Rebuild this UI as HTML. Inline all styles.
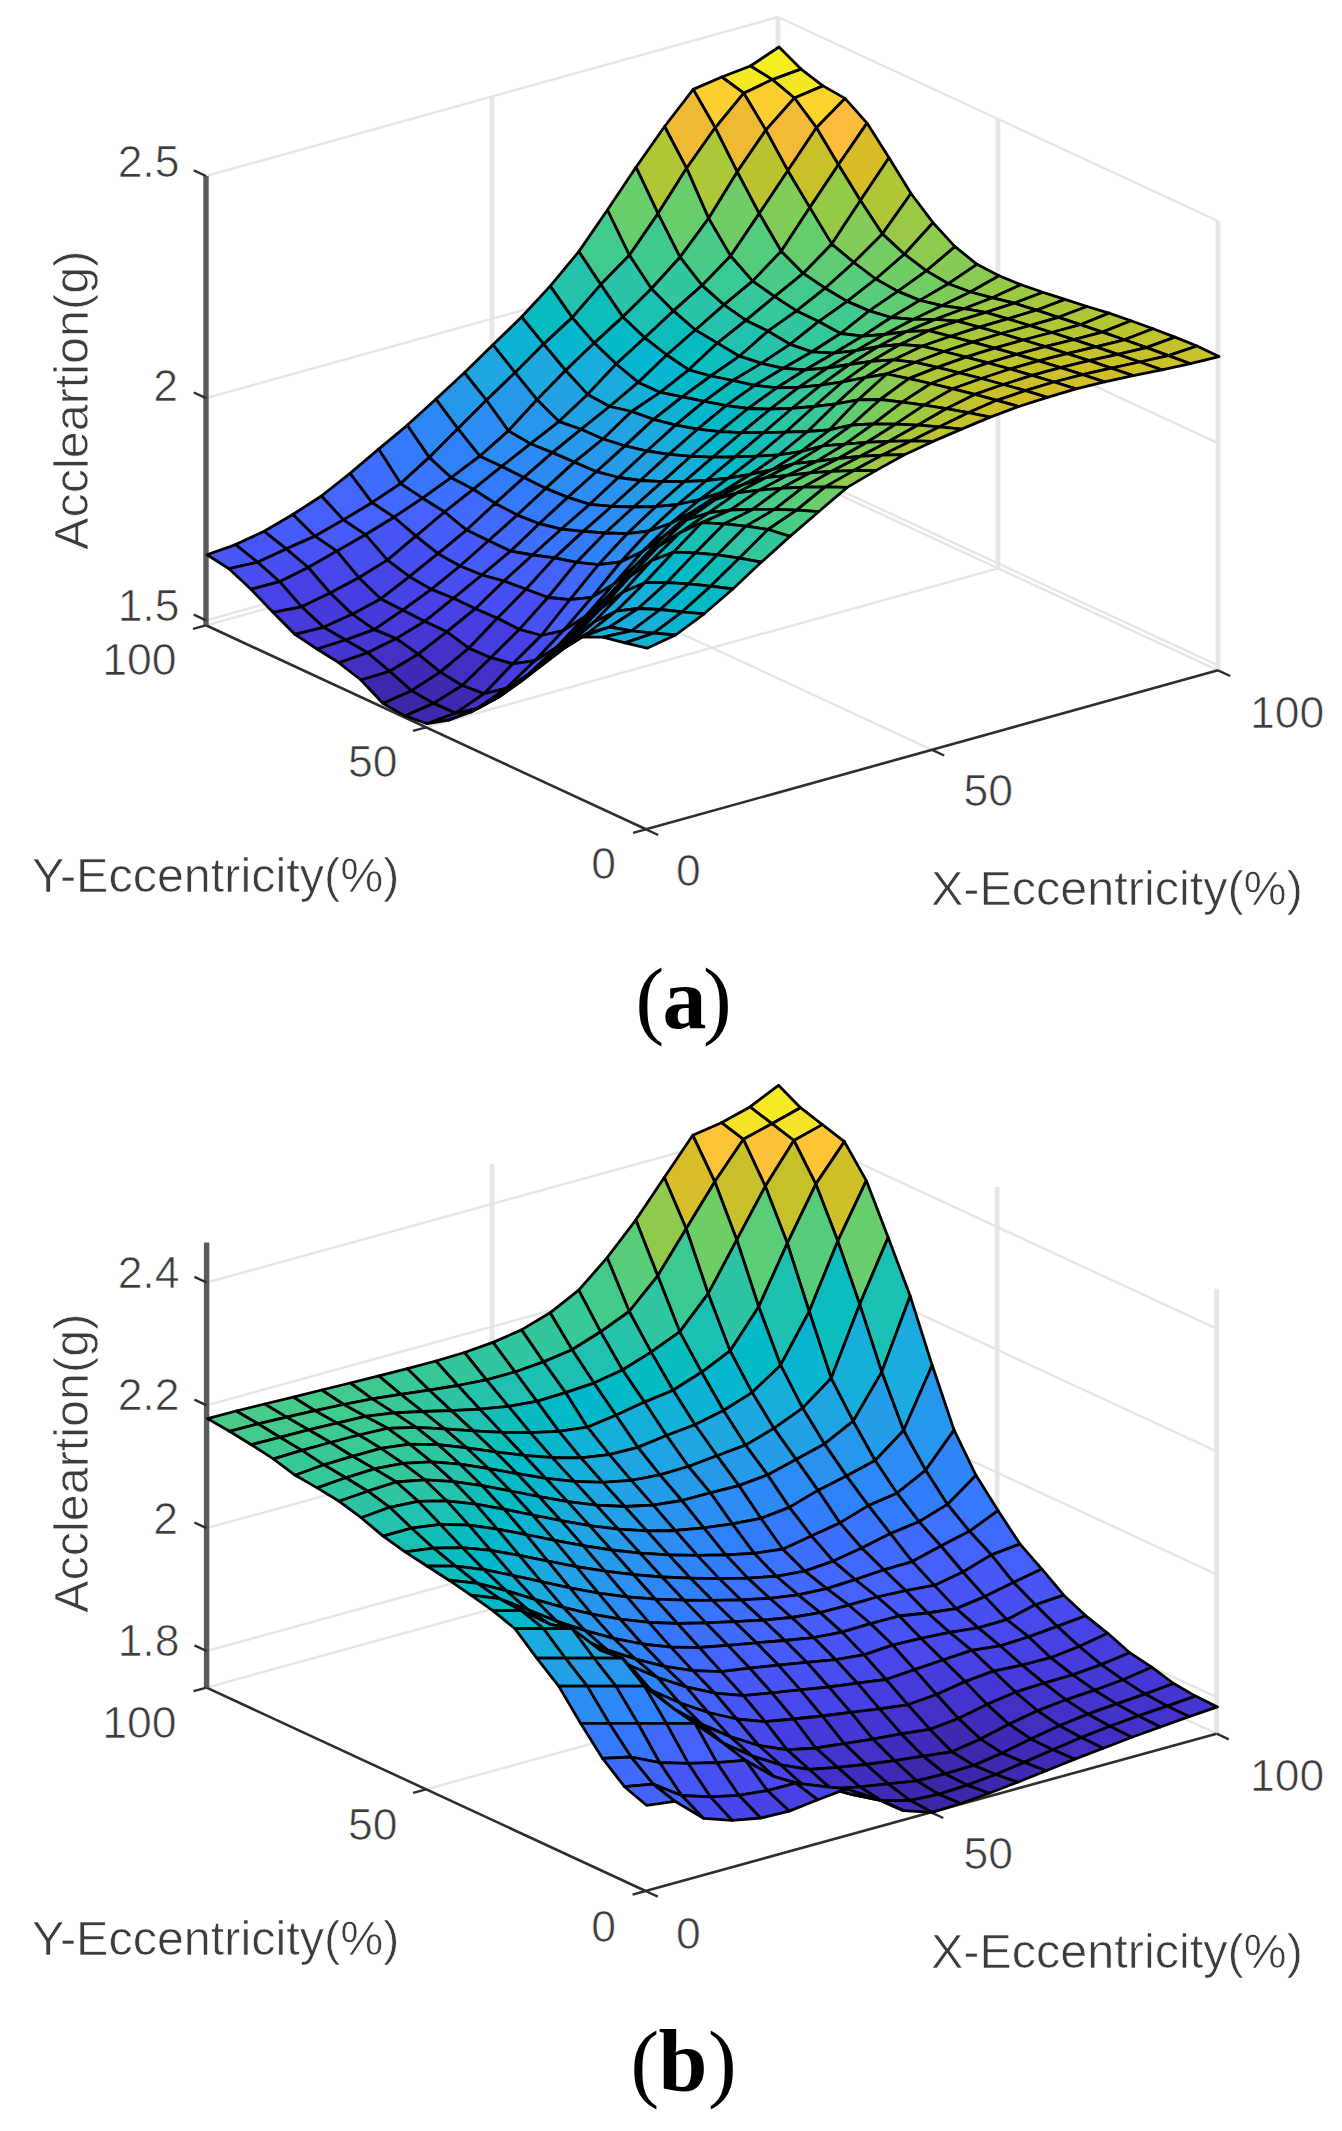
<!DOCTYPE html>
<html lang="en"><head><meta charset="utf-8"><title>Acceleration response surfaces</title>
<style>
html,body{margin:0;padding:0;background:#fff}
body{width:1342px;height:2131px;overflow:hidden}
svg{display:block}
.g{stroke:#e5e5e5;stroke-width:2.4;fill:none}
.gv{stroke:#e6e6e6;stroke-width:4.8;fill:none}
.ax{stroke:#2e2e2e;stroke-width:2.6;fill:none}
.az{stroke:#5a5a5a;stroke-width:5.4;fill:none}
.tk{stroke:#2e2e2e;stroke-width:2.4;fill:none}
.sf polygon{stroke:#000;stroke-width:2.8;stroke-linejoin:round}
.t{font-family:"Liberation Sans",Arial,Helvetica,sans-serif;font-size:44.5px;fill:#3c3c3c;stroke:#fff;stroke-width:.7px}
.l{font-family:"Liberation Sans",Arial,Helvetica,sans-serif;font-size:48.5px;fill:#3c3c3c;stroke:#fff;stroke-width:.7px}
.c{font-family:"Liberation Serif","Times New Roman",serif;font-size:88px;fill:#000}
.cb{font-weight:bold}
.cp{font-size:86px}
</style></head>
<body>
<svg width="1342" height="2131" viewBox="0 0 1342 2131">
<rect width="1342" height="2131" fill="#fff"/>
<g><path class="g" d="M932 749.8L492 545.8"/><path class="g" d="M1218 670.3L778 466.3"/><path class="g" d="M426 727.3L998 568.3"/><path class="g" d="M206 625.3L778 466.3"/><path class="gv" d="M492 545.8L492 96.5"/><path class="gv" d="M778 466.3L778 17"/><path class="gv" d="M1218 670.3L1218 221"/><path class="gv" d="M998 568.3L998 119"/><path class="g" d="M206 620.4L778 461.4"/><path class="g" d="M778 461.4L1218 665.4"/><path class="g" d="M206 398.2L778 239.2"/><path class="g" d="M778 239.2L1218 443.2"/><path class="g" d="M206 176L778 17"/><path class="g" d="M778 17L1218 221"/></g>
<g><path class="ax" d="M646 829.3L1218 670.3"/><path class="ax" d="M646 829.3L206 625.3"/><path class="az" d="M206 625.3L206 176"/><path class="tk" d="M646 829.3L658.2 835"/><path class="tk" d="M932 749.8L944.2 755.5"/><path class="tk" d="M1218 670.3L1230.2 676"/><path class="tk" d="M646 829.3L633 832.9"/><path class="tk" d="M426 727.3L413 730.9"/><path class="tk" d="M206 625.3L193 628.9"/><path class="tk" d="M206 620.4L193.8 614.7"/><path class="tk" d="M206 398.2L193.8 392.5"/><path class="tk" d="M206 176L193.8 170.4"/></g>
<g class="sf"><polygon fill="#f5ee21" points="772.4,79.6 801,69.1 779,47 750.4,66"/><polygon fill="#f5e924" points="743.8,93.2 772.4,79.6 750.4,66 721.8,77"/><polygon fill="#fccf30" points="715.2,127.8 743.8,93.2 721.8,77 693.2,89.4"/><polygon fill="#f0ba36" points="686.6,168.3 715.2,127.8 693.2,89.4 664.6,126.5"/><polygon fill="#b1c635" points="658,213.6 686.6,168.3 664.6,126.5 636,167.2"/><polygon fill="#68cd6b" points="629.4,255.3 658,213.6 636,167.2 607.4,210"/><polygon fill="#40ca8d" points="600.8,284.6 629.4,255.3 607.4,210 578.8,251.6"/><polygon fill="#27c2ac" points="572.2,317.6 600.8,284.6 578.8,251.6 550.2,286.1"/><polygon fill="#07bcc0" points="543.6,344.1 572.2,317.6 550.2,286.1 521.6,317"/><polygon fill="#0db3d3" points="515,372.7 543.6,344.1 521.6,317 493,344.8"/><polygon fill="#1ea7e1" points="486.4,400.2 515,372.7 493,344.8 464.4,372.7"/><polygon fill="#2698ea" points="457.8,428.7 486.4,400.2 464.4,372.7 435.8,399.2"/><polygon fill="#2d88f6" points="429.2,457.4 457.8,428.7 435.8,399.2 407.2,425.3"/><polygon fill="#3579fd" points="400.6,483.6 429.2,457.4 407.2,425.3 378.6,449.1"/><polygon fill="#3f6eff" points="372,502.7 400.6,483.6 378.6,449.1 350,473.4"/><polygon fill="#4466fd" points="343.4,519.9 372,502.7 350,473.4 321.4,496"/><polygon fill="#465ffb" points="314.8,536.2 343.4,519.9 321.4,496 292.8,514.5"/><polygon fill="#475bf9" points="286.2,548.9 314.8,536.2 292.8,514.5 264.2,531.3"/><polygon fill="#4756f7" points="257.6,562.3 286.2,548.9 264.2,531.3 235.6,544.6"/><polygon fill="#4757f7" points="229,568.7 257.6,562.3 235.6,544.6 207,554.7"/><polygon fill="#f5e625" points="794.4,98 823,85.9 801,69.1 772.4,79.6"/><polygon fill="#fccf30" points="765.8,130.1 794.4,98 772.4,79.6 743.8,93.2"/><polygon fill="#eeba34" points="737.2,171.9 765.8,130.1 743.8,93.2 715.2,127.8"/><polygon fill="#acc738" points="708.6,218.4 737.2,171.9 715.2,127.8 686.6,168.3"/><polygon fill="#69cd6b" points="680,257.2 708.6,218.4 686.6,168.3 658,213.6"/><polygon fill="#3eca8f" points="651.4,288.7 680,257.2 658,213.6 629.4,255.3"/><polygon fill="#2ac3a9" points="622.8,316.9 651.4,288.7 629.4,255.3 600.8,284.6"/><polygon fill="#0cbdbc" points="594.2,343.1 622.8,316.9 600.8,284.6 572.2,317.6"/><polygon fill="#07b5cf" points="565.6,370.5 594.2,343.1 572.2,317.6 543.6,344.1"/><polygon fill="#1da9e0" points="537,399.7 565.6,370.5 543.6,344.1 515,372.7"/><polygon fill="#2698ea" points="508.4,430.9 537,399.7 515,372.7 486.4,400.2"/><polygon fill="#2d8bf4" points="479.8,456.2 508.4,430.9 486.4,400.2 457.8,428.7"/><polygon fill="#3080fa" points="451.2,477.7 479.8,456.2 457.8,428.7 429.2,457.4"/><polygon fill="#3975fe" points="422.6,498.2 451.2,477.7 429.2,457.4 400.6,483.6"/><polygon fill="#426afe" points="394,517.2 422.6,498.2 400.6,483.6 372,502.7"/><polygon fill="#4562fc" points="365.4,534.7 394,517.2 372,502.7 343.4,519.9"/><polygon fill="#475bf9" points="336.8,551.1 365.4,534.7 343.4,519.9 314.8,536.2"/><polygon fill="#4853f5" points="308.2,567.5 336.8,551.1 314.8,536.2 286.2,548.9"/><polygon fill="#484ef1" points="279.6,581.7 308.2,567.5 286.2,548.9 257.6,562.3"/><polygon fill="#484ef1" points="251,589.3 279.6,581.7 257.6,562.3 229,568.7"/><polygon fill="#fbd42e" points="816.4,127.7 845,98.4 823,85.9 794.4,98"/><polygon fill="#f3ba38" points="787.8,170.7 816.4,127.7 794.4,98 765.8,130.1"/><polygon fill="#bac430" points="759.2,213.6 787.8,170.7 765.8,130.1 737.2,171.9"/><polygon fill="#70cd65" points="730.6,256 759.2,213.6 737.2,171.9 708.6,218.4"/><polygon fill="#47cb87" points="702,285.4 730.6,256 708.6,218.4 680,257.2"/><polygon fill="#32c69f" points="673.4,310.9 702,285.4 680,257.2 651.4,288.7"/><polygon fill="#1bc0b4" points="644.8,337.8 673.4,310.9 651.4,288.7 622.8,316.9"/><polygon fill="#01b9c7" points="616.2,364 644.8,337.8 622.8,316.9 594.2,343.1"/><polygon fill="#18aedb" points="587.6,394.4 616.2,364 594.2,343.1 565.6,370.5"/><polygon fill="#23a1e4" points="559,421.6 587.6,394.4 565.6,370.5 537,399.7"/><polygon fill="#2796eb" points="530.4,443.8 559,421.6 537,399.7 508.4,430.9"/><polygon fill="#2d8bf4" points="501.8,466.4 530.4,443.8 508.4,430.9 479.8,456.2"/><polygon fill="#307ffb" points="473.2,489.3 501.8,466.4 479.8,456.2 451.2,477.7"/><polygon fill="#3c71ff" points="444.6,512 473.2,489.3 451.2,477.7 422.6,498.2"/><polygon fill="#4563fc" points="416,536.1 444.6,512 422.6,498.2 394,517.2"/><polygon fill="#4755f6" points="387.4,560.1 416,536.1 394,517.2 365.4,534.7"/><polygon fill="#484df0" points="358.8,577.7 387.4,560.1 365.4,534.7 336.8,551.1"/><polygon fill="#4746eb" points="330.2,593 358.8,577.7 336.8,551.1 308.2,567.5"/><polygon fill="#4741e5" points="301.6,606.8 330.2,593 308.2,567.5 279.6,581.7"/><polygon fill="#4743e8" points="273,612.3 301.6,606.8 279.6,581.7 251,589.3"/><polygon fill="#fcbc3d" points="838.4,164.7 867,123.1 845,98.4 816.4,127.7"/><polygon fill="#c9c129" points="809.8,207.6 838.4,164.7 816.4,127.7 787.8,170.7"/><polygon fill="#80cc59" points="781.2,251.3 809.8,207.6 787.8,170.7 759.2,213.6"/><polygon fill="#53cc7e" points="752.6,281.1 781.2,251.3 759.2,213.6 730.6,256"/><polygon fill="#39c995" points="724,304.9 752.6,281.1 730.6,256 702,285.4"/><polygon fill="#29c3a9" points="695.4,330 724,304.9 702,285.4 673.4,310.9"/><polygon fill="#0dbdbc" points="666.8,355 695.4,330 673.4,310.9 644.8,337.8"/><polygon fill="#06b5cf" points="638.2,382.4 666.8,355 644.8,337.8 616.2,364"/><polygon fill="#19acdc" points="609.6,406.5 638.2,382.4 616.2,364 587.6,394.4"/><polygon fill="#21a2e4" points="581,429.3 609.6,406.5 587.6,394.4 559,421.6"/><polygon fill="#2798ea" points="552.4,452.6 581,429.3 559,421.6 530.4,443.8"/><polygon fill="#2d8af4" points="523.8,477.6 552.4,452.6 530.4,443.8 501.8,466.4"/><polygon fill="#327bfc" points="495.2,503.4 523.8,477.6 501.8,466.4 473.2,489.3"/><polygon fill="#426afe" points="466.6,530.1 495.2,503.4 473.2,489.3 444.6,512"/><polygon fill="#475cfa" points="438,553.7 466.6,530.1 444.6,512 416,536.1"/><polygon fill="#484ff2" points="409.4,576.7 438,553.7 416,536.1 387.4,560.1"/><polygon fill="#4743e7" points="380.8,598.9 409.4,576.7 387.4,560.1 358.8,577.7"/><polygon fill="#463de0" points="352.2,614.2 380.8,598.9 358.8,577.7 330.2,593"/><polygon fill="#4639d9" points="323.6,627.3 352.2,614.2 330.2,593 301.6,606.8"/><polygon fill="#463adb" points="295,634.4 323.6,627.3 301.6,606.8 273,612.3"/><polygon fill="#d9bd28" points="860.4,200.5 889,157.7 867,123.1 838.4,164.7"/><polygon fill="#95ca49" points="831.8,244.1 860.4,200.5 838.4,164.7 809.8,207.6"/><polygon fill="#66cd6d" points="803.2,273.4 831.8,244.1 809.8,207.6 781.2,251.3"/><polygon fill="#49cb86" points="774.6,296.6 803.2,273.4 781.2,251.3 752.6,281.1"/><polygon fill="#34c79b" points="746,320.4 774.6,296.6 752.6,281.1 724,304.9"/><polygon fill="#26c2ad" points="717.4,343.1 746,320.4 724,304.9 695.4,330"/><polygon fill="#06bcc0" points="688.8,369.8 717.4,343.1 695.4,330 666.8,355"/><polygon fill="#06b5cf" points="660.2,392.4 688.8,369.8 666.8,355 638.2,382.4"/><polygon fill="#15afd8" points="631.6,411.5 660.2,392.4 638.2,382.4 609.6,406.5"/><polygon fill="#21a3e3" points="603,439 631.6,411.5 609.6,406.5 581,429.3"/><polygon fill="#2798ea" points="574.4,462.1 603,439 581,429.3 552.4,452.6"/><polygon fill="#2d8af5" points="545.8,488.4 574.4,462.1 552.4,452.6 523.8,477.6"/><polygon fill="#347afd" points="517.2,515.1 545.8,488.4 523.8,477.6 495.2,503.4"/><polygon fill="#4269fe" points="488.6,540.8 517.2,515.1 495.2,503.4 466.6,530.1"/><polygon fill="#475af9" points="460,566 488.6,540.8 466.6,530.1 438,553.7"/><polygon fill="#484df1" points="431.4,589.4 460,566 438,553.7 409.4,576.7"/><polygon fill="#4742e6" points="402.8,610.2 431.4,589.4 409.4,576.7 380.8,598.9"/><polygon fill="#4639d9" points="374.2,629.6 402.8,610.2 380.8,598.9 352.2,614.2"/><polygon fill="#4537d6" points="345.6,640 374.2,629.6 352.2,614.2 323.6,627.3"/><polygon fill="#4536d5" points="317,649 345.6,640 323.6,627.3 295,634.4"/><polygon fill="#afc637" points="882.4,233.9 911,193.5 889,157.7 860.4,200.5"/><polygon fill="#83cc57" points="853.8,262.5 882.4,233.9 860.4,200.5 831.8,244.1"/><polygon fill="#5dcc75" points="825.2,288.2 853.8,262.5 831.8,244.1 803.2,273.4"/><polygon fill="#42ca8c" points="796.6,310.9 825.2,288.2 803.2,273.4 774.6,296.6"/><polygon fill="#34c79c" points="768,331.1 796.6,310.9 774.6,296.6 746,320.4"/><polygon fill="#22c1b0" points="739.4,356.2 768,331.1 746,320.4 717.4,343.1"/><polygon fill="#0bbdbc" points="710.8,376 739.4,356.2 717.4,343.1 688.8,369.8"/><polygon fill="#01b8c9" points="682.2,396.9 710.8,376 688.8,369.8 660.2,392.4"/><polygon fill="#12b1d7" points="653.6,419.4 682.2,396.9 660.2,392.4 631.6,411.5"/><polygon fill="#20a5e2" points="625,445.9 653.6,419.4 631.6,411.5 603,439"/><polygon fill="#2698ea" points="596.4,471.7 625,445.9 603,439 574.4,462.1"/><polygon fill="#2d8bf4" points="567.8,497.4 596.4,471.7 574.4,462.1 545.8,488.4"/><polygon fill="#327bfc" points="539.2,523.7 567.8,497.4 545.8,488.4 517.2,515.1"/><polygon fill="#4269fe" points="510.6,551.2 539.2,523.7 517.2,515.1 488.6,540.8"/><polygon fill="#475bfa" points="482,575 510.6,551.2 488.6,540.8 460,566"/><polygon fill="#484ef1" points="453.4,598.3 482,575 460,566 431.4,589.4"/><polygon fill="#4741e5" points="424.8,621.4 453.4,598.3 431.4,589.4 402.8,610.2"/><polygon fill="#463adb" points="396.2,638.6 424.8,621.4 402.8,610.2 374.2,629.6"/><polygon fill="#4536d2" points="367.6,652.7 396.2,638.6 374.2,629.6 345.6,640"/><polygon fill="#4434cf" points="339,662.8 367.6,652.7 345.6,640 317,649"/><polygon fill="#9ac946" points="904.4,254.2 933,222.7 911,193.5 882.4,233.9"/><polygon fill="#75cc62" points="875.8,279 904.4,254.2 882.4,233.9 853.8,262.5"/><polygon fill="#57cc7a" points="847.2,301.4 875.8,279 853.8,262.5 825.2,288.2"/><polygon fill="#41ca8c" points="818.6,321.6 847.2,301.4 825.2,288.2 796.6,310.9"/><polygon fill="#31c6a0" points="790,344.3 818.6,321.6 796.6,310.9 768,331.1"/><polygon fill="#26c2ac" points="761.4,363.4 790,344.3 768,331.1 739.4,356.2"/><polygon fill="#17bfb6" points="732.8,380.5 761.4,363.4 739.4,356.2 710.8,376"/><polygon fill="#02bac4" points="704.2,401.3 732.8,380.5 710.8,376 682.2,396.9"/><polygon fill="#0cb3d3" points="675.6,425.1 704.2,401.3 682.2,396.9 653.6,419.4"/><polygon fill="#1da9e0" points="647,451 675.6,425.1 653.6,419.4 625,445.9"/><polygon fill="#259ce7" points="618.4,477.5 647,451 625,445.9 596.4,471.7"/><polygon fill="#2d8df2" points="589.8,504.3 618.4,477.5 596.4,471.7 567.8,497.4"/><polygon fill="#307ffb" points="561.2,529.2 589.8,504.3 567.8,497.4 539.2,523.7"/><polygon fill="#3e6fff" points="532.6,555 561.2,529.2 539.2,523.7 510.6,551.2"/><polygon fill="#465ffb" points="504,581.1 532.6,555 510.6,551.2 482,575"/><polygon fill="#484ef1" points="475.4,608.7 504,581.1 482,575 453.4,598.3"/><polygon fill="#4741e5" points="446.8,631.8 475.4,608.7 453.4,598.3 424.8,621.4"/><polygon fill="#4536d3" points="418.2,654.2 446.8,631.8 424.8,621.4 396.2,638.6"/><polygon fill="#4330c5" points="389.6,671.3 418.2,654.2 396.2,638.6 367.6,652.7"/><polygon fill="#4230c3" points="361,680 389.6,671.3 367.6,652.7 339,662.8"/><polygon fill="#8ccb50" points="926.4,270.9 955,246.6 933,222.7 904.4,254.2"/><polygon fill="#70cd65" points="897.8,291.4 926.4,270.9 904.4,254.2 875.8,279"/><polygon fill="#58cc79" points="869.2,310.9 897.8,291.4 875.8,279 847.2,301.4"/><polygon fill="#3eca8f" points="840.6,333.5 869.2,310.9 847.2,301.4 818.6,321.6"/><polygon fill="#33c79c" points="812,351.8 840.6,333.5 818.6,321.6 790,344.3"/><polygon fill="#2cc4a7" points="783.4,368.3 812,351.8 790,344.3 761.4,363.4"/><polygon fill="#20c1b1" points="754.8,385.3 783.4,368.3 761.4,363.4 732.8,380.5"/><polygon fill="#09bdbe" points="726.2,405.7 754.8,385.3 732.8,380.5 704.2,401.3"/><polygon fill="#04b6cd" points="697.6,429.2 726.2,405.7 704.2,401.3 675.6,425.1"/><polygon fill="#19addc" points="669,454.4 697.6,429.2 675.6,425.1 647,451"/><polygon fill="#23a1e4" points="640.4,480.5 669,454.4 647,451 618.4,477.5"/><polygon fill="#2994ed" points="611.8,506.3 640.4,480.5 618.4,477.5 589.8,504.3"/><polygon fill="#2e86f7" points="583.2,531.4 611.8,506.3 589.8,504.3 561.2,529.2"/><polygon fill="#3876fe" points="554.6,557.9 583.2,531.4 561.2,529.2 532.6,555"/><polygon fill="#4561fc" points="526,589.2 554.6,557.9 532.6,555 504,581.1"/><polygon fill="#484ff2" points="497.4,618.2 526,589.2 504,581.1 475.4,608.7"/><polygon fill="#463cdf" points="468.8,648.2 497.4,618.2 475.4,608.7 446.8,631.8"/><polygon fill="#4331c7" points="440.2,672.1 468.8,648.2 446.8,631.8 418.2,654.2"/><polygon fill="#402ab5" points="411.6,690.7 440.2,672.1 418.2,654.2 389.6,671.3"/><polygon fill="#3e28ac" points="383,703.5 411.6,690.7 389.6,671.3 361,680"/><polygon fill="#86cb55" points="948.4,283.7 977,264.3 955,246.6 926.4,270.9"/><polygon fill="#72cd63" points="919.8,300.4 948.4,283.7 926.4,270.9 897.8,291.4"/><polygon fill="#5fcd73" points="891.2,317.5 919.8,300.4 897.8,291.4 869.2,310.9"/><polygon fill="#4bcb84" points="862.6,336.1 891.2,317.5 869.2,310.9 840.6,333.5"/><polygon fill="#3cc991" points="834,353.2 862.6,336.1 840.6,333.5 812,351.8"/><polygon fill="#34c79c" points="805.4,369.8 834,353.2 812,351.8 783.4,368.3"/><polygon fill="#2bc3a8" points="776.8,387.8 805.4,369.8 783.4,368.3 754.8,385.3"/><polygon fill="#18bfb6" points="748.2,408.5 776.8,387.8 754.8,385.3 726.2,405.7"/><polygon fill="#01b9c6" points="719.6,431.7 748.2,408.5 726.2,405.7 697.6,429.2"/><polygon fill="#10b2d5" points="691,456.3 719.6,431.7 697.6,429.2 669,454.4"/><polygon fill="#1ea7e1" points="662.4,481.6 691,456.3 669,454.4 640.4,480.5"/><polygon fill="#259be8" points="633.8,507 662.4,481.6 640.4,480.5 611.8,506.3"/><polygon fill="#2d8df2" points="605.2,533 633.8,507 611.8,506.3 583.2,531.4"/><polygon fill="#327bfc" points="576.6,562.4 605.2,533 583.2,531.4 554.6,557.9"/><polygon fill="#4562fc" points="548,597.5 576.6,562.4 554.6,557.9 526,589.2"/><polygon fill="#484ef1" points="519.4,629.4 548,597.5 526,589.2 497.4,618.2"/><polygon fill="#463ddf" points="490.8,657.7 519.4,629.4 497.4,618.2 468.8,648.2"/><polygon fill="#422fc2" points="462.2,685.5 490.8,657.7 468.8,648.2 440.2,672.1"/><polygon fill="#3f29b1" points="433.6,703.4 462.2,685.5 440.2,672.1 411.6,690.7"/><polygon fill="#3e26a8" points="405,715.9 433.6,703.4 411.6,690.7 383,703.5"/><polygon fill="#8acb52" points="970.4,292 999,275.8 977,264.3 948.4,283.7"/><polygon fill="#7dcc5b" points="941.8,305.7 970.4,292 948.4,283.7 919.8,300.4"/><polygon fill="#70cd65" points="913.2,319.4 941.8,305.7 919.8,300.4 891.2,317.5"/><polygon fill="#62cd71" points="884.6,334.5 913.2,319.4 891.2,317.5 862.6,336.1"/><polygon fill="#52cc7e" points="856,350.6 884.6,334.5 862.6,336.1 834,353.2"/><polygon fill="#41ca8c" points="827.4,368 856,350.6 834,353.2 805.4,369.8"/><polygon fill="#34c79c" points="798.8,387.4 827.4,368 805.4,369.8 776.8,387.8"/><polygon fill="#27c2ac" points="770.2,409.2 798.8,387.4 776.8,387.8 748.2,408.5"/><polygon fill="#0bbdbc" points="741.6,432.7 770.2,409.2 748.2,408.5 719.6,431.7"/><polygon fill="#04b6cd" points="713,457.1 741.6,432.7 719.6,431.7 691,456.3"/><polygon fill="#18aedb" points="684.4,481.6 713,457.1 691,456.3 662.4,481.6"/><polygon fill="#22a2e4" points="655.8,506.7 684.4,481.6 662.4,481.6 633.8,507"/><polygon fill="#2994ec" points="627.2,533.7 655.8,506.7 633.8,507 605.2,533"/><polygon fill="#2f82f9" points="598.6,564.6 627.2,533.7 605.2,533 576.6,562.4"/><polygon fill="#4269fe" points="570,599.7 598.6,564.6 576.6,562.4 548,597.5"/><polygon fill="#4852f4" points="541.4,635.5 570,599.7 548,597.5 519.4,629.4"/><polygon fill="#4740e4" points="512.8,663.8 541.4,635.5 519.4,629.4 490.8,657.7"/><polygon fill="#4330c5" points="484.2,693.7 512.8,663.8 490.8,657.7 462.2,685.5"/><polygon fill="#3f29b2" points="455.6,713.1 484.2,693.7 462.2,685.5 433.6,703.4"/><polygon fill="#3f28ad" points="427,723.7 455.6,713.1 433.6,703.4 405,715.9"/><polygon fill="#94ca4a" points="992.4,297.8 1021,284.7 999,275.8 970.4,292"/><polygon fill="#8dcb4f" points="963.8,308.7 992.4,297.8 970.4,292 941.8,305.7"/><polygon fill="#87cb54" points="935.2,319.4 963.8,308.7 941.8,305.7 913.2,319.4"/><polygon fill="#7ecc5b" points="906.6,331.6 935.2,319.4 913.2,319.4 884.6,334.5"/><polygon fill="#6ecd67" points="878,346.7 906.6,331.6 884.6,334.5 856,350.6"/><polygon fill="#5acc77" points="849.4,364.5 878,346.7 856,350.6 827.4,368"/><polygon fill="#43ca8b" points="820.8,385.1 849.4,364.5 827.4,368 798.8,387.4"/><polygon fill="#32c69f" points="792.2,408.3 820.8,385.1 798.8,387.4 770.2,409.2"/><polygon fill="#1fc0b2" points="763.6,432.7 792.2,408.3 770.2,409.2 741.6,432.7"/><polygon fill="#03bbc3" points="735,456.9 763.6,432.7 741.6,432.7 713,457.1"/><polygon fill="#0ab4d2" points="706.4,480.5 735,456.9 713,457.1 684.4,481.6"/><polygon fill="#1babde" points="677.8,504.5 706.4,480.5 684.4,481.6 655.8,506.7"/><polygon fill="#249ee6" points="649.2,531 677.8,504.5 655.8,506.7 627.2,533.7"/><polygon fill="#2d8df2" points="620.6,562 649.2,531 627.2,533.7 598.6,564.6"/><polygon fill="#3975fe" points="592,597.4 620.6,562 598.6,564.6 570,599.7"/><polygon fill="#465efb" points="563.4,630.6 592,597.4 570,599.7 541.4,635.5"/><polygon fill="#484bef" points="534.8,660.7 563.4,630.6 541.4,635.5 512.8,663.8"/><polygon fill="#463bdd" points="506.2,688.4 534.8,660.7 512.8,663.8 484.2,693.7"/><polygon fill="#4332cb" points="477.6,708.5 506.2,688.4 484.2,693.7 455.6,713.1"/><polygon fill="#4330c5" points="449,720 477.6,708.5 455.6,713.1 427,723.7"/><polygon fill="#9ec942" points="1014.4,303.2 1043,292.3 1021,284.7 992.4,297.8"/><polygon fill="#9bc944" points="985.8,312.4 1014.4,303.2 992.4,297.8 963.8,308.7"/><polygon fill="#9ac946" points="957.2,321.1 985.8,312.4 963.8,308.7 935.2,319.4"/><polygon fill="#96ca48" points="928.6,330.7 957.2,321.1 935.2,319.4 906.6,331.6"/><polygon fill="#89cb52" points="900,344.5 928.6,330.7 906.6,331.6 878,346.7"/><polygon fill="#76cc61" points="871.4,361.3 900,344.5 878,346.7 849.4,364.5"/><polygon fill="#5ccc76" points="842.8,381.8 871.4,361.3 849.4,364.5 820.8,385.1"/><polygon fill="#3eca8f" points="814.2,406.5 842.8,381.8 820.8,385.1 792.2,408.3"/><polygon fill="#2dc4a6" points="785.6,432.2 814.2,406.5 792.2,408.3 763.6,432.7"/><polygon fill="#15bfb7" points="757,456.2 785.6,432.2 763.6,432.7 735,456.9"/><polygon fill="#01bac6" points="728.4,478.1 757,456.2 735,456.9 706.4,480.5"/><polygon fill="#0bb3d2" points="699.8,499.6 728.4,478.1 706.4,480.5 677.8,504.5"/><polygon fill="#1baade" points="671.2,523.2 699.8,499.6 677.8,504.5 649.2,531"/><polygon fill="#259ce7" points="642.6,551.5 671.2,523.2 649.2,531 620.6,562"/><polygon fill="#2d8af5" points="614,583.9 642.6,551.5 620.6,562 592,597.4"/><polygon fill="#3974fe" points="585.4,616.5 614,583.9 592,597.4 563.4,630.6"/><polygon fill="#4660fb" points="556.8,647.2 585.4,616.5 563.4,630.6 534.8,660.7"/><polygon fill="#484ff2" points="528.2,674.7 556.8,647.2 534.8,660.7 506.2,688.4"/><polygon fill="#4743e7" points="499.6,696.5 528.2,674.7 506.2,688.4 477.6,708.5"/><polygon fill="#463ddf" points="471,712 499.6,696.5 477.6,708.5 449,720"/><polygon fill="#a5c83e" points="1036.4,310.2 1065,299.4 1043,292.3 1014.4,303.2"/><polygon fill="#a3c83f" points="1007.8,318.9 1036.4,310.2 1014.4,303.2 985.8,312.4"/><polygon fill="#a2c83f" points="979.2,327.2 1007.8,318.9 985.8,312.4 957.2,321.1"/><polygon fill="#a0c841" points="950.6,336.3 979.2,327.2 957.2,321.1 928.6,330.7"/><polygon fill="#9cc944" points="922,346.2 950.6,336.3 928.6,330.7 900,344.5"/><polygon fill="#8fca4d" points="893.4,359.9 922,346.2 900,344.5 871.4,361.3"/><polygon fill="#7acc5e" points="864.8,377.7 893.4,359.9 871.4,361.3 842.8,381.8"/><polygon fill="#54cc7c" points="836.2,403.8 864.8,377.7 842.8,381.8 814.2,406.5"/><polygon fill="#36c898" points="807.6,431.5 836.2,403.8 814.2,406.5 785.6,432.2"/><polygon fill="#28c2ab" points="779,454.9 807.6,431.5 785.6,432.2 757,456.2"/><polygon fill="#15bfb7" points="750.4,474.5 779,454.9 757,456.2 728.4,478.1"/><polygon fill="#04bbc2" points="721.8,492.3 750.4,474.5 728.4,478.1 699.8,499.6"/><polygon fill="#04b6cd" points="693.2,511.4 721.8,492.3 699.8,499.6 671.2,523.2"/><polygon fill="#17aedb" points="664.6,535.5 693.2,511.4 671.2,523.2 642.6,551.5"/><polygon fill="#239fe5" points="636,565.2 664.6,535.5 642.6,551.5 614,583.9"/><polygon fill="#2c8ef2" points="607.4,597 636,565.2 614,583.9 585.4,616.5"/><polygon fill="#347afd" points="578.8,628.3 607.4,597 585.4,616.5 556.8,647.2"/><polygon fill="#4367fd" points="550.2,656.9 578.8,628.3 556.8,647.2 528.2,674.7"/><polygon fill="#4759f8" points="521.6,680.8 550.2,656.9 528.2,674.7 499.6,696.5"/><polygon fill="#4851f3" points="493,698.8 521.6,680.8 499.6,696.5 471,712"/><polygon fill="#abc739" points="1058.4,317.3 1087,306.5 1065,299.4 1036.4,310.2"/><polygon fill="#aac73a" points="1029.8,325.6 1058.4,317.3 1036.4,310.2 1007.8,318.9"/><polygon fill="#abc739" points="1001.2,333.5 1029.8,325.6 1007.8,318.9 979.2,327.2"/><polygon fill="#a9c73a" points="972.6,342.1 1001.2,333.5 979.2,327.2 950.6,336.3"/><polygon fill="#a6c83d" points="944,351.5 972.6,342.1 950.6,336.3 922,346.2"/><polygon fill="#a0c841" points="915.4,362.3 944,351.5 922,346.2 893.4,359.9"/><polygon fill="#98c947" points="886.8,374 915.4,362.3 893.4,359.9 864.8,377.7"/><polygon fill="#71cd64" points="858.2,399.9 886.8,374 864.8,377.7 836.2,403.8"/><polygon fill="#46cb88" points="829.6,429.8 858.2,399.9 836.2,403.8 807.6,431.5"/><polygon fill="#34c79b" points="801,451.7 829.6,429.8 807.6,431.5 779,454.9"/><polygon fill="#2cc4a7" points="772.4,469.6 801,451.7 779,454.9 750.4,474.5"/><polygon fill="#24c1ae" points="743.8,484.3 772.4,469.6 750.4,474.5 721.8,492.3"/><polygon fill="#17bfb6" points="715.2,499.6 743.8,484.3 721.8,492.3 693.2,511.4"/><polygon fill="#02bac3" points="686.6,520 715.2,499.6 693.2,511.4 664.6,535.5"/><polygon fill="#10b2d5" points="658,546.8 686.6,520 664.6,535.5 636,565.2"/><polygon fill="#21a4e3" points="629.4,577.2 658,546.8 636,565.2 607.4,597"/><polygon fill="#2a93ee" points="600.8,608.7 629.4,577.2 607.4,597 578.8,628.3"/><polygon fill="#2f81fa" points="572.2,638.3 600.8,608.7 578.8,628.3 550.2,656.9"/><polygon fill="#3c71ff" points="543.6,663.8 572.2,638.3 550.2,656.9 521.6,680.8"/><polygon fill="#4466fd" points="515,684.3 543.6,663.8 521.6,680.8 493,698.8"/><polygon fill="#b1c635" points="1080.4,324.7 1109,313.1 1087,306.5 1058.4,317.3"/><polygon fill="#b1c635" points="1051.8,332.5 1080.4,324.7 1058.4,317.3 1029.8,325.6"/><polygon fill="#b2c635" points="1023.2,340 1051.8,332.5 1029.8,325.6 1001.2,333.5"/><polygon fill="#b2c635" points="994.6,348.1 1023.2,340 1001.2,333.5 972.6,342.1"/><polygon fill="#b0c636" points="966,357.1 994.6,348.1 972.6,342.1 944,351.5"/><polygon fill="#abc739" points="937.4,367.4 966,357.1 944,351.5 915.4,362.3"/><polygon fill="#a4c83e" points="908.8,378.6 937.4,367.4 915.4,362.3 886.8,374"/><polygon fill="#88cb53" points="880.2,399.5 908.8,378.6 886.8,374 858.2,399.9"/><polygon fill="#62cd70" points="851.6,425 880.2,399.5 858.2,399.9 829.6,429.8"/><polygon fill="#49cb85" points="823,445.9 851.6,425 829.6,429.8 801,451.7"/><polygon fill="#3bc993" points="794.4,463.5 823,445.9 801,451.7 772.4,469.6"/><polygon fill="#34c79b" points="765.8,477.7 794.4,463.5 772.4,469.6 743.8,484.3"/><polygon fill="#2ec5a4" points="737.2,492.8 765.8,477.7 743.8,484.3 715.2,499.6"/><polygon fill="#20c1b1" points="708.6,512.8 737.2,492.8 715.2,499.6 686.6,520"/><polygon fill="#09bdbe" points="680,532.8 708.6,512.8 686.6,520 658,546.8"/><polygon fill="#0ab4d1" points="651.4,560.8 680,532.8 658,546.8 629.4,577.2"/><polygon fill="#1fa6e2" points="622.8,592.2 651.4,560.8 629.4,577.2 600.8,608.7"/><polygon fill="#2796eb" points="594.2,621.9 622.8,592.2 600.8,608.7 572.2,638.3"/><polygon fill="#2d89f5" points="565.6,647.2 594.2,621.9 572.2,638.3 543.6,663.8"/><polygon fill="#307ffb" points="537,667.5 565.6,647.2 543.6,663.8 515,684.3"/><polygon fill="#b6c532" points="1102.4,332.1 1131,320.7 1109,313.1 1080.4,324.7"/><polygon fill="#b7c532" points="1073.8,339.6 1102.4,332.1 1080.4,324.7 1051.8,332.5"/><polygon fill="#b9c431" points="1045.2,346.7 1073.8,339.6 1051.8,332.5 1023.2,340"/><polygon fill="#bac430" points="1016.6,354.3 1045.2,346.7 1023.2,340 994.6,348.1"/><polygon fill="#b8c431" points="988,362.9 1016.6,354.3 994.6,348.1 966,357.1"/><polygon fill="#b4c533" points="959.4,372.8 988,362.9 966,357.1 937.4,367.4"/><polygon fill="#afc637" points="930.8,383.5 959.4,372.8 937.4,367.4 908.8,378.6"/><polygon fill="#99c946" points="902.2,402.1 930.8,383.5 908.8,378.6 880.2,399.5"/><polygon fill="#7acc5d" points="873.6,423.9 902.2,402.1 880.2,399.5 851.6,425"/><polygon fill="#60cd72" points="845,444.2 873.6,423.9 851.6,425 823,445.9"/><polygon fill="#4ecc81" points="816.4,461.4 845,444.2 823,445.9 794.4,463.5"/><polygon fill="#44cb8a" points="787.8,475.3 816.4,461.4 794.4,463.5 765.8,477.7"/><polygon fill="#3ac994" points="759.2,490.2 787.8,475.3 765.8,477.7 737.2,492.8"/><polygon fill="#2fc5a3" points="730.6,510 759.2,490.2 737.2,492.8 708.6,512.8"/><polygon fill="#2bc3a8" points="702,522.6 730.6,510 708.6,512.8 680,532.8"/><polygon fill="#08bcbf" points="673.4,552.2 702,522.6 680,532.8 651.4,560.8"/><polygon fill="#0fb2d5" points="644.8,582.7 673.4,552.2 651.4,560.8 622.8,592.2"/><polygon fill="#1fa5e2" points="616.2,611.2 644.8,582.7 622.8,592.2 594.2,621.9"/><polygon fill="#259be8" points="587.6,633.5 616.2,611.2 594.2,621.9 565.6,647.2"/><polygon fill="#2994ed" points="559,650.7 587.6,633.5 565.6,647.2 537,667.5"/><polygon fill="#bbc42f" points="1124.4,339.8 1153,328.7 1131,320.7 1102.4,332.1"/><polygon fill="#bdc32e" points="1095.8,346.9 1124.4,339.8 1102.4,332.1 1073.8,339.6"/><polygon fill="#bfc32d" points="1067.2,353.6 1095.8,346.9 1073.8,339.6 1045.2,346.7"/><polygon fill="#c1c32d" points="1038.6,360.9 1067.2,353.6 1045.2,346.7 1016.6,354.3"/><polygon fill="#c0c32d" points="1010,369 1038.6,360.9 1016.6,354.3 988,362.9"/><polygon fill="#bdc32e" points="981.4,378.5 1010,369 988,362.9 959.4,372.8"/><polygon fill="#b9c431" points="952.8,388.8 981.4,378.5 959.4,372.8 930.8,383.5"/><polygon fill="#a8c73b" points="924.2,405.1 952.8,388.8 930.8,383.5 902.2,402.1"/><polygon fill="#90ca4d" points="895.6,424.2 924.2,405.1 902.2,402.1 873.6,423.9"/><polygon fill="#7acc5e" points="867,442.3 895.6,424.2 873.6,423.9 845,444.2"/><polygon fill="#68cd6c" points="838.4,458.5 867,442.3 845,444.2 816.4,461.4"/><polygon fill="#5bcc77" points="809.8,472.9 838.4,458.5 816.4,461.4 787.8,475.3"/><polygon fill="#4dcb82" points="781.2,488.3 809.8,472.9 787.8,475.3 759.2,490.2"/><polygon fill="#39c895" points="752.6,509.4 781.2,488.3 759.2,490.2 730.6,510"/><polygon fill="#33c69d" points="724,523.9 752.6,509.4 730.6,510 702,522.6"/><polygon fill="#19bfb5" points="695.4,552.9 724,523.9 702,522.6 673.4,552.2"/><polygon fill="#02b7cb" points="666.8,582.7 695.4,552.9 673.4,552.2 644.8,582.7"/><polygon fill="#18aedb" points="638.2,608.5 666.8,582.7 644.8,582.7 616.2,611.2"/><polygon fill="#1ea7e1" points="609.6,627 638.2,608.5 616.2,611.2 587.6,633.5"/><polygon fill="#1fa5e2" points="581,637.1 609.6,627 587.6,633.5 559,650.7"/><polygon fill="#c0c32d" points="1146.4,347.6 1175,337.1 1153,328.7 1124.4,339.8"/><polygon fill="#c2c22c" points="1117.8,354.4 1146.4,347.6 1124.4,339.8 1095.8,346.9"/><polygon fill="#c5c22a" points="1089.2,360.7 1117.8,354.4 1095.8,346.9 1067.2,353.6"/><polygon fill="#c7c12a" points="1060.6,367.6 1089.2,360.7 1067.2,353.6 1038.6,360.9"/><polygon fill="#c7c129" points="1032,375.4 1060.6,367.6 1038.6,360.9 1010,369"/><polygon fill="#c5c22a" points="1003.4,384.5 1032,375.4 1010,369 981.4,378.5"/><polygon fill="#c2c32c" points="974.8,394.4 1003.4,384.5 981.4,378.5 952.8,388.8"/><polygon fill="#b5c533" points="946.2,408.7 974.8,394.4 952.8,388.8 924.2,405.1"/><polygon fill="#a4c83e" points="917.6,425.2 946.2,408.7 924.2,405.1 895.6,424.2"/><polygon fill="#93ca4b" points="889,441.3 917.6,425.2 895.6,424.2 867,442.3"/><polygon fill="#83cc57" points="860.4,456.3 889,441.3 867,442.3 838.4,458.5"/><polygon fill="#73cd63" points="831.8,471.3 860.4,456.3 838.4,458.5 809.8,472.9"/><polygon fill="#62cd70" points="803.2,487.2 831.8,471.3 809.8,472.9 781.2,488.3"/><polygon fill="#47cb87" points="774.6,509.4 803.2,487.2 781.2,488.3 752.6,509.4"/><polygon fill="#3bc993" points="746,526.1 774.6,509.4 752.6,509.4 724,523.9"/><polygon fill="#26c2ac" points="717.4,554.8 746,526.1 724,523.9 695.4,552.9"/><polygon fill="#03bbc2" points="688.8,583.8 717.4,554.8 695.4,552.9 666.8,582.7"/><polygon fill="#0db3d3" points="660.2,609.5 688.8,583.8 666.8,582.7 638.2,608.5"/><polygon fill="#1babde" points="631.6,630.8 660.2,609.5 638.2,608.5 609.6,627"/><polygon fill="#19acdc" points="603,637.1 631.6,630.8 609.6,627 581,637.1"/><polygon fill="#c4c22b" points="1168.4,355.6 1197,346 1175,337.1 1146.4,347.6"/><polygon fill="#c7c12a" points="1139.8,362 1168.4,355.6 1146.4,347.6 1117.8,354.4"/><polygon fill="#cac129" points="1111.2,368.1 1139.8,362 1117.8,354.4 1089.2,360.7"/><polygon fill="#cdc028" points="1082.6,374.6 1111.2,368.1 1089.2,360.7 1060.6,367.6"/><polygon fill="#cec028" points="1054,382 1082.6,374.6 1060.6,367.6 1032,375.4"/><polygon fill="#ccc028" points="1025.4,390.7 1054,382 1032,375.4 1003.4,384.5"/><polygon fill="#c9c129" points="996.8,400.3 1025.4,390.7 1003.4,384.5 974.8,394.4"/><polygon fill="#c1c32c" points="968.2,412.7 996.8,400.3 974.8,394.4 946.2,408.7"/><polygon fill="#b5c533" points="939.6,426.8 968.2,412.7 946.2,408.7 917.6,425.2"/><polygon fill="#a9c73b" points="911,440.9 939.6,426.8 917.6,425.2 889,441.3"/><polygon fill="#9cc944" points="882.4,455.1 911,440.9 889,441.3 860.4,456.3"/><polygon fill="#8ccb50" points="853.8,470.6 882.4,455.1 860.4,456.3 831.8,471.3"/><polygon fill="#79cc5e" points="825.2,486.9 853.8,470.6 831.8,471.3 803.2,487.2"/><polygon fill="#59cc78" points="796.6,510.2 825.2,486.9 803.2,487.2 774.6,509.4"/><polygon fill="#44cb89" points="768,529.5 796.6,510.2 774.6,509.4 746,526.1"/><polygon fill="#2ec4a4" points="739.4,558.1 768,529.5 746,526.1 717.4,554.8"/><polygon fill="#0fbeba" points="710.8,586.1 739.4,558.1 717.4,554.8 688.8,583.8"/><polygon fill="#03b7cc" points="682.2,611.8 710.8,586.1 688.8,583.8 660.2,609.5"/><polygon fill="#14b0d8" points="653.6,633.1 682.2,611.8 660.2,609.5 631.6,630.8"/><polygon fill="#16afd9" points="625,642.9 653.6,633.1 631.6,630.8 603,637.1"/><polygon fill="#c8c129" points="1190.4,363.7 1219,356.6 1197,346 1168.4,355.6"/><polygon fill="#cbc129" points="1161.8,369.9 1190.4,363.7 1168.4,355.6 1139.8,362"/><polygon fill="#cfc028" points="1133.2,375.6 1161.8,369.9 1139.8,362 1111.2,368.1"/><polygon fill="#d2bf27" points="1104.6,381.8 1133.2,375.6 1111.2,368.1 1082.6,374.6"/><polygon fill="#d4bf27" points="1076,388.9 1104.6,381.8 1082.6,374.6 1054,382"/><polygon fill="#d3bf27" points="1047.4,397.3 1076,388.9 1054,382 1025.4,390.7"/><polygon fill="#d1bf27" points="1018.8,406.5 1047.4,397.3 1025.4,390.7 996.8,400.3"/><polygon fill="#ccc028" points="990.2,417.1 1018.8,406.5 996.8,400.3 968.2,412.7"/><polygon fill="#c5c22a" points="961.6,429.1 990.2,417.1 968.2,412.7 939.6,426.8"/><polygon fill="#bcc42f" points="933,441.4 961.6,429.1 939.6,426.8 911,440.9"/><polygon fill="#b2c635" points="904.4,454.7 933,441.4 911,440.9 882.4,455.1"/><polygon fill="#a1c840" points="875.8,470.6 904.4,454.7 882.4,455.1 853.8,470.6"/><polygon fill="#8fcb4e" points="847.2,487.4 875.8,470.6 853.8,470.6 825.2,486.9"/><polygon fill="#6bcd69" points="818.6,511.7 847.2,487.4 825.2,486.9 796.6,510.2"/><polygon fill="#4acb85" points="790,536.4 818.6,511.7 796.6,510.2 768,529.5"/><polygon fill="#33c69d" points="761.4,562.1 790,536.4 768,529.5 739.4,558.1"/><polygon fill="#1dc0b2" points="732.8,589 761.4,562.1 739.4,558.1 710.8,586.1"/><polygon fill="#02bac4" points="704.2,613.8 732.8,589 710.8,586.1 682.2,611.8"/><polygon fill="#09b4d1" points="675.6,635 704.2,613.8 682.2,611.8 653.6,633.1"/><polygon fill="#11b2d5" points="647,648.2 675.6,635 653.6,633.1 625,642.9"/></g>
<g><path class="g" d="M931.1 1812.3L492.1 1608.9"/><path class="g" d="M1216.6 1733.7L777.6 1530.3"/><path class="g" d="M426.1 1789.3L997.1 1632"/><path class="g" d="M206.6 1687.6L777.6 1530.3"/><path class="gv" d="M492.1 1608.9L492.1 1163.9"/><path class="gv" d="M777.6 1530.3L777.6 1085.3"/><path class="gv" d="M1216.6 1733.7L1216.6 1288.7"/><path class="gv" d="M997.1 1632L997.1 1187"/><path class="g" d="M206.6 1651L777.6 1493.7"/><path class="g" d="M777.6 1493.7L1216.6 1697.1"/><path class="g" d="M206.6 1528.2L777.6 1370.9"/><path class="g" d="M777.6 1370.9L1216.6 1574.3"/><path class="g" d="M206.6 1405.3L777.6 1248"/><path class="g" d="M777.6 1248L1216.6 1451.4"/><path class="g" d="M206.6 1282.5L777.6 1125.2"/><path class="g" d="M777.6 1125.2L1216.6 1328.6"/></g>
<g><path class="ax" d="M645.6 1891L1216.6 1733.7"/><path class="ax" d="M645.6 1891L206.6 1687.6"/><path class="az" d="M206.6 1687.6L206.6 1242.6"/><path class="tk" d="M645.6 1891L657.8 1896.7"/><path class="tk" d="M931.1 1812.3L943.3 1818"/><path class="tk" d="M1216.6 1733.7L1228.8 1739.4"/><path class="tk" d="M645.6 1891L632.6 1894.6"/><path class="tk" d="M426.1 1789.3L413.1 1792.9"/><path class="tk" d="M206.6 1687.6L193.6 1691.2"/><path class="tk" d="M206.6 1651L194.4 1645.3"/><path class="tk" d="M206.6 1528.2L194.4 1522.5"/><path class="tk" d="M206.6 1405.3L194.4 1399.6"/><path class="tk" d="M206.6 1282.5L194.4 1276.8"/></g>
<g class="sf"><polygon fill="#f5ea24" points="771.9,1123.7 800.5,1107.7 778.5,1085.3 750,1106.9"/><polygon fill="#f5e327" points="743.4,1139.3 771.9,1123.7 750,1106.9 721.4,1122.7"/><polygon fill="#fec438" points="714.8,1181.8 743.4,1139.3 721.4,1122.7 692.8,1135.3"/><polygon fill="#d8be28" points="686.2,1228.8 714.8,1181.8 692.8,1135.3 664.3,1177.5"/><polygon fill="#90ca4d" points="657.7,1275.8 686.2,1228.8 664.3,1177.5 635.8,1220"/><polygon fill="#58cc79" points="629.2,1311.5 657.7,1275.8 635.8,1220 607.2,1257.7"/><polygon fill="#43ca8b" points="600.6,1331.8 629.2,1311.5 607.2,1257.7 578.7,1290.2"/><polygon fill="#37c898" points="572.1,1349.7 600.6,1331.8 578.7,1290.2 550.1,1312.8"/><polygon fill="#33c69d" points="543.5,1361.9 572.1,1349.7 550.1,1312.8 521.5,1329.9"/><polygon fill="#31c6a0" points="515,1372 543.5,1361.9 521.5,1329.9 493,1342.4"/><polygon fill="#31c69f" points="486.4,1379.8 515,1372 493,1342.4 464.5,1352.5"/><polygon fill="#33c69d" points="457.9,1385.5 486.4,1379.8 464.5,1352.5 435.9,1361"/><polygon fill="#36c799" points="429.3,1390.2 457.9,1385.5 435.9,1361 407.4,1368.7"/><polygon fill="#39c895" points="400.8,1394.4 429.3,1390.2 407.4,1368.7 378.8,1375.9"/><polygon fill="#3dc990" points="372.2,1398.9 400.8,1394.4 378.8,1375.9 350.3,1383"/><polygon fill="#40ca8d" points="343.7,1404.5 372.2,1398.9 350.3,1383 321.7,1390"/><polygon fill="#42ca8b" points="315.1,1410.7 343.7,1404.5 321.7,1390 293.2,1397.1"/><polygon fill="#45cb89" points="286.6,1417.1 315.1,1410.7 293.2,1397.1 264.6,1404"/><polygon fill="#46cb88" points="258,1423.8 286.6,1417.1 264.6,1404 236.1,1411"/><polygon fill="#47cb87" points="229.5,1431.3 258,1423.8 236.1,1411 207.5,1418.6"/><polygon fill="#f5e427" points="793.9,1140.5 822.4,1124.6 800.5,1107.7 771.9,1123.7"/><polygon fill="#fec239" points="765.3,1186.3 793.9,1140.5 771.9,1123.7 743.4,1139.3"/><polygon fill="#c9c129" points="736.8,1239.9 765.3,1186.3 743.4,1139.3 714.8,1181.8"/><polygon fill="#6fcd66" points="708.2,1293.7 736.8,1239.9 714.8,1181.8 686.2,1228.8"/><polygon fill="#3bc992" points="679.7,1331.8 708.2,1293.7 686.2,1228.8 657.7,1275.8"/><polygon fill="#30c5a1" points="651.1,1352.1 679.7,1331.8 657.7,1275.8 629.2,1311.5"/><polygon fill="#27c2ac" points="622.5,1370 651.1,1352.1 629.2,1311.5 600.6,1331.8"/><polygon fill="#20c1b1" points="594,1383.1 622.5,1370 600.6,1331.8 572.1,1349.7"/><polygon fill="#1dc0b3" points="565.5,1392.6 594,1383.1 572.1,1349.7 543.5,1361.9"/><polygon fill="#1cc0b4" points="536.9,1401.3 565.5,1392.6 543.5,1361.9 515,1372"/><polygon fill="#20c1b1" points="508.4,1406.4 536.9,1401.3 515,1372 486.4,1379.8"/><polygon fill="#27c2ac" points="479.8,1409.2 508.4,1406.4 486.4,1379.8 457.9,1385.5"/><polygon fill="#2dc4a5" points="451.3,1410.6 479.8,1409.2 457.9,1385.5 429.3,1390.2"/><polygon fill="#33c69d" points="422.7,1411.5 451.3,1410.6 429.3,1390.2 400.8,1394.4"/><polygon fill="#39c895" points="394.2,1412.9 422.7,1411.5 400.8,1394.4 372.2,1398.9"/><polygon fill="#3eca90" points="365.6,1416.4 394.2,1412.9 372.2,1398.9 343.7,1404.5"/><polygon fill="#3fca8e" points="337.1,1423.1 365.6,1416.4 343.7,1404.5 315.1,1410.7"/><polygon fill="#41ca8d" points="308.5,1429.8 337.1,1423.1 315.1,1410.7 286.6,1417.1"/><polygon fill="#41ca8c" points="279.9,1437.3 308.5,1429.8 286.6,1417.1 258,1423.8"/><polygon fill="#42ca8b" points="251.4,1444.7 279.9,1437.3 258,1423.8 229.5,1431.3"/><polygon fill="#fec636" points="815.8,1184.1 844.4,1141.6 822.4,1124.6 793.9,1140.5"/><polygon fill="#c7c129" points="787.3,1243.3 815.8,1184.1 793.9,1140.5 765.3,1186.3"/><polygon fill="#5bcc77" points="758.7,1306.8 787.3,1243.3 765.3,1186.3 736.8,1239.9"/><polygon fill="#2dc4a6" points="730.1,1350.9 758.7,1306.8 736.8,1239.9 708.2,1293.7"/><polygon fill="#1bc0b4" points="701.6,1372.3 730.1,1350.9 708.2,1293.7 679.7,1331.8"/><polygon fill="#09bdbe" points="673.1,1390.2 701.6,1372.3 679.7,1331.8 651.1,1352.1"/><polygon fill="#04bbc2" points="644.5,1402.1 673.1,1390.2 651.1,1352.1 622.5,1370"/><polygon fill="#01b9c7" points="616,1415.3 644.5,1402.1 622.5,1370 594,1383.1"/><polygon fill="#01b7ca" points="587.4,1427.2 616,1415.3 594,1383.1 565.5,1392.6"/><polygon fill="#01b9c7" points="558.9,1431.3 587.4,1427.2 565.5,1392.6 536.9,1401.3"/><polygon fill="#05bbc1" points="530.3,1432.7 558.9,1431.3 536.9,1401.3 508.4,1406.4"/><polygon fill="#12beb9" points="501.8,1432.4 530.3,1432.7 508.4,1406.4 479.8,1409.2"/><polygon fill="#22c1af" points="473.2,1430.9 501.8,1432.4 479.8,1409.2 451.3,1410.6"/><polygon fill="#2dc4a5" points="444.6,1428.9 473.2,1430.9 451.3,1410.6 422.7,1411.5"/><polygon fill="#35c79a" points="416.1,1427.4 444.6,1428.9 422.7,1411.5 394.2,1412.9"/><polygon fill="#3cc992" points="387.6,1428.3 416.1,1427.4 394.2,1412.9 365.6,1416.4"/><polygon fill="#3dc990" points="359,1435 387.6,1428.3 365.6,1416.4 337.1,1423.1"/><polygon fill="#3dca90" points="330.5,1442.5 359,1435 337.1,1423.1 308.5,1429.8"/><polygon fill="#3dca90" points="301.9,1450.4 330.5,1442.5 308.5,1429.8 279.9,1437.3"/><polygon fill="#3dc991" points="273.4,1458.9 301.9,1450.4 279.9,1437.3 251.4,1444.7"/><polygon fill="#cfc028" points="837.8,1241.1 866.3,1180.6 844.4,1141.6 815.8,1184.1"/><polygon fill="#56cc7b" points="809.2,1311.5 837.8,1241.1 815.8,1184.1 787.3,1243.3"/><polygon fill="#1ec0b2" points="780.6,1365.2 809.2,1311.5 787.3,1243.3 758.7,1306.8"/><polygon fill="#01bac5" points="752.1,1392.6 780.6,1365.2 758.7,1306.8 730.1,1350.9"/><polygon fill="#06b5ce" points="723.5,1410.5 752.1,1392.6 730.1,1350.9 701.6,1372.3"/><polygon fill="#0eb2d4" points="695,1424.8 723.5,1410.5 701.6,1372.3 673.1,1390.2"/><polygon fill="#12b1d6" points="666.5,1435.5 695,1424.8 673.1,1390.2 644.5,1402.1"/><polygon fill="#16afd9" points="637.9,1447.4 666.5,1435.5 644.5,1402.1 616,1415.3"/><polygon fill="#15afd9" points="609.3,1454.6 637.9,1447.4 616,1415.3 587.4,1427.2"/><polygon fill="#10b2d5" points="580.8,1457.8 609.3,1454.6 587.4,1427.2 558.9,1431.3"/><polygon fill="#06b6ce" points="552.2,1457.6 580.8,1457.8 558.9,1431.3 530.3,1432.7"/><polygon fill="#01bac5" points="523.7,1455.3 552.2,1457.6 530.3,1432.7 501.8,1432.4"/><polygon fill="#10beba" points="495.2,1451.8 523.7,1455.3 501.8,1432.4 473.2,1430.9"/><polygon fill="#24c1ae" points="466.6,1447.9 495.2,1451.8 473.2,1430.9 444.6,1428.9"/><polygon fill="#2fc5a3" points="438.1,1444.6 466.6,1447.9 444.6,1428.9 416.1,1427.4"/><polygon fill="#36c799" points="409.5,1444.2 438.1,1444.6 416.1,1427.4 387.6,1428.3"/><polygon fill="#39c995" points="380.9,1448.4 409.5,1444.2 387.6,1428.3 359,1435"/><polygon fill="#39c995" points="352.4,1456.3 380.9,1448.4 359,1435 330.5,1442.5"/><polygon fill="#39c895" points="323.8,1464.8 352.4,1456.3 330.5,1442.5 301.9,1450.4"/><polygon fill="#36c899" points="295.3,1475.3 323.8,1464.8 301.9,1450.4 273.4,1458.9"/><polygon fill="#68cd6c" points="859.7,1304.4 888.2,1237.4 866.3,1180.6 837.8,1241.1"/><polygon fill="#0bbdbd" points="831.2,1378.3 859.7,1304.4 837.8,1241.1 809.2,1311.5"/><polygon fill="#09b4d1" points="802.6,1408.1 831.2,1378.3 809.2,1311.5 780.6,1365.2"/><polygon fill="#18aedb" points="774,1428.4 802.6,1408.1 780.6,1365.2 752.1,1392.6"/><polygon fill="#1da8e0" points="745.5,1445.1 774,1428.4 752.1,1392.6 723.5,1410.5"/><polygon fill="#1ea7e1" points="717,1455.8 745.5,1445.1 723.5,1410.5 695,1424.8"/><polygon fill="#20a5e2" points="688.4,1466.5 717,1455.8 695,1424.8 666.5,1435.5"/><polygon fill="#20a4e3" points="659.9,1474.9 688.4,1466.5 666.5,1435.5 637.9,1447.4"/><polygon fill="#1fa6e2" points="631.3,1480.3 659.9,1474.9 637.9,1447.4 609.3,1454.6"/><polygon fill="#1caadf" points="602.8,1482.4 631.3,1480.3 609.3,1454.6 580.8,1457.8"/><polygon fill="#16afd9" points="574.2,1481.4 602.8,1482.4 580.8,1457.8 552.2,1457.6"/><polygon fill="#08b4d1" points="545.6,1478.3 574.2,1481.4 552.2,1457.6 523.7,1455.3"/><polygon fill="#01bac5" points="517.1,1473.7 545.6,1478.3 523.7,1455.3 495.2,1451.8"/><polygon fill="#12beb9" points="488.5,1468.6 517.1,1473.7 495.2,1451.8 466.6,1447.9"/><polygon fill="#26c2ad" points="460,1464.2 488.5,1468.6 466.6,1447.9 438.1,1444.6"/><polygon fill="#30c5a2" points="431.5,1461.9 460,1464.2 438.1,1444.6 409.5,1444.2"/><polygon fill="#35c79a" points="402.9,1463.3 431.5,1461.9 409.5,1444.2 380.9,1448.4"/><polygon fill="#37c898" points="374.4,1468.9 402.9,1463.3 380.9,1448.4 352.4,1456.3"/><polygon fill="#36c899" points="345.8,1477.8 374.4,1468.9 352.4,1456.3 323.8,1464.8"/><polygon fill="#34c79b" points="317.2,1487.9 345.8,1477.8 323.8,1464.8 295.3,1475.3"/><polygon fill="#1ac0b4" points="881.7,1372.1 910.2,1296.1 888.2,1237.4 859.7,1304.4"/><polygon fill="#16afda" points="853.1,1421.2 881.7,1372.1 859.7,1304.4 831.2,1378.3"/><polygon fill="#1fa6e2" points="824.5,1443.9 853.1,1421.2 831.2,1378.3 802.6,1408.1"/><polygon fill="#23a1e5" points="796,1459.4 824.5,1443.9 802.6,1408.1 774,1428.4"/><polygon fill="#259ce7" points="767.5,1474.9 796,1459.4 774,1428.4 745.5,1445.1"/><polygon fill="#269ae9" points="738.9,1485.6 767.5,1474.9 745.5,1445.1 717,1455.8"/><polygon fill="#269ae8" points="710.4,1492.8 738.9,1485.6 717,1455.8 688.4,1466.5"/><polygon fill="#269ae8" points="681.8,1500.5 710.4,1492.8 688.4,1466.5 659.9,1474.9"/><polygon fill="#259ce7" points="653.2,1505.2 681.8,1500.5 659.9,1474.9 631.3,1480.3"/><polygon fill="#23a1e5" points="624.7,1506.5 653.2,1505.2 631.3,1480.3 602.8,1482.4"/><polygon fill="#1ea7e1" points="596.2,1505.2 624.7,1506.5 602.8,1482.4 574.2,1481.4"/><polygon fill="#18aedb" points="567.6,1501.6 596.2,1505.2 574.2,1481.4 545.6,1478.3"/><polygon fill="#09b4d1" points="539.1,1496.7 567.6,1501.6 545.6,1478.3 517.1,1473.7"/><polygon fill="#02bac5" points="510.5,1491 539.1,1496.7 517.1,1473.7 488.5,1468.6"/><polygon fill="#14beb8" points="482,1485.7 510.5,1491 488.5,1468.6 460,1464.2"/><polygon fill="#27c2ac" points="453.4,1481.6 482,1485.7 460,1464.2 431.5,1461.9"/><polygon fill="#30c5a2" points="424.9,1479.9 453.4,1481.6 431.5,1461.9 402.9,1463.3"/><polygon fill="#34c79b" points="396.3,1482 424.9,1479.9 402.9,1463.3 374.4,1468.9"/><polygon fill="#33c79d" points="367.8,1491.2 396.3,1482 374.4,1468.9 345.8,1477.8"/><polygon fill="#31c69f" points="339.2,1501.3 367.8,1491.2 345.8,1477.8 317.2,1487.9"/><polygon fill="#1babde" points="903.6,1430.5 932.2,1365.3 910.2,1296.1 881.7,1372.1"/><polygon fill="#259ce7" points="875.1,1460.5 903.6,1430.5 881.7,1372.1 853.1,1421.2"/><polygon fill="#2797eb" points="846.5,1476.1 875.1,1460.5 853.1,1421.2 824.5,1443.9"/><polygon fill="#2a92ee" points="818,1490.4 846.5,1476.1 824.5,1443.9 796,1459.4"/><polygon fill="#2d8cf3" points="789.4,1507.4 818,1490.4 796,1459.4 767.5,1474.9"/><polygon fill="#2d89f5" points="760.9,1518.3 789.4,1507.4 767.5,1474.9 738.9,1485.6"/><polygon fill="#2d8bf4" points="732.3,1523.9 760.9,1518.3 738.9,1485.6 710.4,1492.8"/><polygon fill="#2c8ef1" points="703.8,1527.9 732.3,1523.9 710.4,1492.8 681.8,1500.5"/><polygon fill="#2b92ee" points="675.2,1530.5 703.8,1527.9 681.8,1500.5 653.2,1505.2"/><polygon fill="#2797eb" points="646.7,1530.8 675.2,1530.5 653.2,1505.2 624.7,1506.5"/><polygon fill="#249ee6" points="618.1,1529.1 646.7,1530.8 624.7,1506.5 596.2,1505.2"/><polygon fill="#1fa5e2" points="589.5,1525.6 618.1,1529.1 596.2,1505.2 567.6,1501.6"/><polygon fill="#19addc" points="561,1520.7 589.5,1525.6 567.6,1501.6 539.1,1496.7"/><polygon fill="#09b4d1" points="532.5,1515 561,1520.7 539.1,1496.7 510.5,1491"/><polygon fill="#02bac5" points="503.9,1509.2 532.5,1515 510.5,1491 482,1485.7"/><polygon fill="#13beb8" points="475.4,1504.1 503.9,1509.2 482,1485.7 453.4,1481.6"/><polygon fill="#25c2ad" points="446.8,1500.9 475.4,1504.1 453.4,1481.6 424.9,1479.9"/><polygon fill="#2dc4a5" points="418.3,1501.4 446.8,1500.9 424.9,1479.9 396.3,1482"/><polygon fill="#2fc5a3" points="389.7,1507.3 418.3,1501.4 396.3,1482 367.8,1491.2"/><polygon fill="#2dc4a6" points="361.2,1517.7 389.7,1507.3 367.8,1491.2 339.2,1501.3"/><polygon fill="#2797eb" points="925.6,1470.3 954.1,1430.1 932.2,1365.3 903.6,1430.5"/><polygon fill="#2d8cf3" points="897,1493.2 925.6,1470.3 903.6,1430.5 875.1,1460.5"/><polygon fill="#2d89f5" points="868.4,1505.6 897,1493.2 875.1,1460.5 846.5,1476.1"/><polygon fill="#2f81fa" points="839.9,1522.9 868.4,1505.6 846.5,1476.1 818,1490.4"/><polygon fill="#317dfc" points="811.4,1536 839.9,1522.9 818,1490.4 789.4,1507.4"/><polygon fill="#3579fd" points="782.8,1549.2 811.4,1536 789.4,1507.4 760.9,1518.3"/><polygon fill="#327cfc" points="754.2,1553.3 782.8,1549.2 760.9,1518.3 732.3,1523.9"/><polygon fill="#2f81fa" points="725.7,1554.8 754.2,1553.3 732.3,1523.9 703.8,1527.9"/><polygon fill="#2e87f7" points="697.1,1555.4 725.7,1554.8 703.8,1527.9 675.2,1530.5"/><polygon fill="#2d8df2" points="668.6,1554.9 697.1,1555.4 675.2,1530.5 646.7,1530.8"/><polygon fill="#2994ed" points="640.1,1553.2 668.6,1554.9 646.7,1530.8 618.1,1529.1"/><polygon fill="#259ce7" points="611.5,1550 640.1,1553.2 618.1,1529.1 589.5,1525.6"/><polygon fill="#20a4e3" points="583,1545.7 611.5,1550 589.5,1525.6 561,1520.7"/><polygon fill="#1aacdd" points="554.4,1540.3 583,1545.7 561,1520.7 532.5,1515"/><polygon fill="#0bb3d2" points="525.9,1534.5 554.4,1540.3 532.5,1515 503.9,1509.2"/><polygon fill="#01b9c7" points="497.3,1529.1 525.9,1534.5 503.9,1509.2 475.4,1504.1"/><polygon fill="#0dbdbb" points="468.8,1525.1 497.3,1529.1 475.4,1504.1 446.8,1500.9"/><polygon fill="#1dc0b3" points="440.2,1524.3 468.8,1525.1 446.8,1500.9 418.3,1501.4"/><polygon fill="#23c1af" points="411.6,1528.2 440.2,1524.3 418.3,1501.4 389.7,1507.3"/><polygon fill="#24c1af" points="383.1,1536.1 411.6,1528.2 389.7,1507.3 361.2,1517.7"/><polygon fill="#2e85f8" points="947.5,1504.4 976,1475.3 954.1,1430.1 925.6,1470.3"/><polygon fill="#317efb" points="919,1521.7 947.5,1504.4 925.6,1470.3 897,1493.2"/><polygon fill="#337bfd" points="890.4,1533.6 919,1521.7 897,1493.2 868.4,1505.6"/><polygon fill="#3975fe" points="861.8,1548 890.4,1533.6 868.4,1505.6 839.9,1522.9"/><polygon fill="#3d70ff" points="833.3,1561.1 861.8,1548 839.9,1522.9 811.4,1536"/><polygon fill="#3f6eff" points="804.8,1571.1 833.3,1561.1 811.4,1536 782.8,1549.2"/><polygon fill="#3d71ff" points="776.2,1576.3 804.8,1571.1 782.8,1549.2 754.2,1553.3"/><polygon fill="#3876fe" points="747.7,1578.1 776.2,1576.3 754.2,1553.3 725.7,1554.8"/><polygon fill="#327cfc" points="719.1,1578.6 747.7,1578.1 725.7,1554.8 697.1,1555.4"/><polygon fill="#2e83f9" points="690.5,1578.2 719.1,1578.6 697.1,1555.4 668.6,1554.9"/><polygon fill="#2d8af4" points="662,1577 690.5,1578.2 668.6,1554.9 640.1,1553.2"/><polygon fill="#2b92ef" points="633.5,1574.7 662,1577 640.1,1553.2 611.5,1550"/><polygon fill="#269ae9" points="604.9,1571.2 633.5,1574.7 611.5,1550 583,1545.7"/><polygon fill="#22a2e4" points="576.3,1566.6 604.9,1571.2 583,1545.7 554.4,1540.3"/><polygon fill="#1baade" points="547.8,1561.1 576.3,1566.6 554.4,1540.3 525.9,1534.5"/><polygon fill="#0fb2d5" points="519.2,1555.3 547.8,1561.1 525.9,1534.5 497.3,1529.1"/><polygon fill="#01b8ca" points="490.7,1550.4 519.2,1555.3 497.3,1529.1 468.8,1525.1"/><polygon fill="#07bcc0" points="462.2,1547.6 490.7,1550.4 468.8,1525.1 440.2,1524.3"/><polygon fill="#13beb8" points="433.6,1548.2 462.2,1547.6 440.2,1524.3 411.6,1528.2"/><polygon fill="#1bc0b4" points="405.1,1551.8 433.6,1548.2 411.6,1528.2 383.1,1536.1"/><polygon fill="#3678fe" points="969.5,1531.3 998,1510.6 976,1475.3 947.5,1504.4"/><polygon fill="#3c72ff" points="940.9,1546 969.5,1531.3 947.5,1504.4 919,1521.7"/><polygon fill="#416bfe" points="912.3,1561.6 940.9,1546 919,1521.7 890.4,1533.6"/><polygon fill="#416bfe" points="883.8,1569.8 912.3,1561.6 890.4,1533.6 861.8,1548"/><polygon fill="#4269fe" points="855.2,1579.6 883.8,1569.8 861.8,1548 833.3,1561.1"/><polygon fill="#4368fe" points="826.7,1588.6 855.2,1579.6 833.3,1561.1 804.8,1571.1"/><polygon fill="#4269fe" points="798.1,1594.9 826.7,1588.6 804.8,1571.1 776.2,1576.3"/><polygon fill="#406dfe" points="769.6,1598.3 798.1,1594.9 776.2,1576.3 747.7,1578.1"/><polygon fill="#3b73fe" points="741,1599.9 769.6,1598.3 747.7,1578.1 719.1,1578.6"/><polygon fill="#3479fd" points="712.5,1600.4 741,1599.9 719.1,1578.6 690.5,1578.2"/><polygon fill="#3080fa" points="684,1600.2 712.5,1600.4 690.5,1578.2 662,1577"/><polygon fill="#2e87f7" points="655.4,1599.2 684,1600.2 662,1577 633.5,1574.7"/><polygon fill="#2c8ff1" points="626.9,1596.9 655.4,1599.2 633.5,1574.7 604.9,1571.2"/><polygon fill="#2797eb" points="598.3,1593.1 626.9,1596.9 604.9,1571.2 576.3,1566.6"/><polygon fill="#23a0e5" points="569.8,1587.9 598.3,1593.1 576.3,1566.6 547.8,1561.1"/><polygon fill="#1da9e0" points="541.2,1581.7 569.8,1587.9 547.8,1561.1 519.2,1555.3"/><polygon fill="#12b1d6" points="512.6,1575.4 541.2,1581.7 519.2,1555.3 490.7,1550.4"/><polygon fill="#02b7cb" points="484.1,1569.7 512.6,1575.4 490.7,1550.4 462.2,1547.6"/><polygon fill="#06bcc0" points="455.5,1566.2 484.1,1569.7 462.2,1547.6 433.6,1548.2"/><polygon fill="#13beb8" points="427,1566 455.5,1566.2 433.6,1548.2 405.1,1551.8"/><polygon fill="#406cfe" points="991.4,1554.9 1020,1544.1 998,1510.6 969.5,1531.3"/><polygon fill="#4464fd" points="962.9,1572 991.4,1554.9 969.5,1531.3 940.9,1546"/><polygon fill="#4660fb" points="934.3,1585.4 962.9,1572 940.9,1546 912.3,1561.6"/><polygon fill="#4562fc" points="905.8,1590.7 934.3,1585.4 912.3,1561.6 883.8,1569.8"/><polygon fill="#4563fd" points="877.2,1597 905.8,1590.7 883.8,1569.8 855.2,1579.6"/><polygon fill="#4563fc" points="848.7,1605.2 877.2,1597 855.2,1579.6 826.7,1588.6"/><polygon fill="#4563fd" points="820.1,1612.6 848.7,1605.2 826.7,1588.6 798.1,1594.9"/><polygon fill="#4466fd" points="791.6,1617.5 820.1,1612.6 798.1,1594.9 769.6,1598.3"/><polygon fill="#426afe" points="763,1620.1 791.6,1617.5 769.6,1598.3 741,1599.9"/><polygon fill="#3e6fff" points="734.5,1621.7 763,1620.1 741,1599.9 712.5,1600.4"/><polygon fill="#3875fe" points="705.9,1622.9 734.5,1621.7 712.5,1600.4 684,1600.2"/><polygon fill="#327cfc" points="677.4,1623.5 705.9,1622.9 684,1600.2 655.4,1599.2"/><polygon fill="#2e83f9" points="648.8,1622.4 677.4,1623.5 655.4,1599.2 626.9,1596.9"/><polygon fill="#2d8bf3" points="620.2,1619.2 648.8,1622.4 626.9,1596.9 598.3,1593.1"/><polygon fill="#2895ec" points="591.7,1614.1 620.2,1619.2 598.3,1593.1 569.8,1587.9"/><polygon fill="#249fe5" points="563.2,1607.3 591.7,1614.1 569.8,1587.9 541.2,1581.7"/><polygon fill="#1ca9df" points="534.6,1599.3 563.2,1607.3 541.2,1581.7 512.6,1575.4"/><polygon fill="#0eb2d4" points="506.1,1590.7 534.6,1599.3 512.6,1575.4 484.1,1569.7"/><polygon fill="#01b9c7" points="477.5,1583.3 506.1,1590.7 484.1,1569.7 455.5,1566.2"/><polygon fill="#0cbdbc" points="449,1580.2 477.5,1583.3 455.5,1566.2 427,1566"/><polygon fill="#465efb" points="1013.4,1582.4 1041.9,1569.1 1020,1544.1 991.4,1554.9"/><polygon fill="#4759f8" points="984.8,1596.6 1013.4,1582.4 991.4,1554.9 962.9,1572"/><polygon fill="#4755f6" points="956.2,1608.6 984.8,1596.6 962.9,1572 934.3,1585.4"/><polygon fill="#4758f8" points="927.7,1613 956.2,1608.6 934.3,1585.4 905.8,1590.7"/><polygon fill="#475cfa" points="899.1,1616 927.7,1613 905.8,1590.7 877.2,1597"/><polygon fill="#475cfa" points="870.6,1623.7 899.1,1616 877.2,1597 848.7,1605.2"/><polygon fill="#475cfa" points="842,1632.1 870.6,1623.7 848.7,1605.2 820.1,1612.6"/><polygon fill="#465dfb" points="813.5,1637.6 842,1632.1 820.1,1612.6 791.6,1617.5"/><polygon fill="#4562fc" points="784.9,1640.5 813.5,1637.6 791.6,1617.5 763,1620.1"/><polygon fill="#4466fd" points="756.4,1642.8 784.9,1640.5 763,1620.1 734.5,1621.7"/><polygon fill="#416bfe" points="727.9,1645.4 756.4,1642.8 734.5,1621.7 705.9,1622.9"/><polygon fill="#3e6fff" points="699.3,1647.5 727.9,1645.4 705.9,1622.9 677.4,1623.5"/><polygon fill="#3777fe" points="670.8,1647.1 699.3,1647.5 677.4,1623.5 648.8,1622.4"/><polygon fill="#3080fa" points="642.2,1644 670.8,1647.1 648.8,1622.4 620.2,1619.2"/><polygon fill="#2d8af4" points="613.6,1638.4 642.2,1644 620.2,1619.2 591.7,1614.1"/><polygon fill="#2896eb" points="585.1,1630.7 613.6,1638.4 591.7,1614.1 563.2,1607.3"/><polygon fill="#22a2e4" points="556.5,1621.1 585.1,1630.7 563.2,1607.3 534.6,1599.3"/><polygon fill="#18aedb" points="528,1609.8 556.5,1621.1 534.6,1599.3 506.1,1590.7"/><polygon fill="#03b7cb" points="499.4,1598.7 528,1609.8 506.1,1590.7 477.5,1583.3"/><polygon fill="#05bbc1" points="470.9,1595.2 499.4,1598.7 477.5,1583.3 449,1580.2"/><polygon fill="#4854f5" points="1035.3,1604.8 1063.8,1595.2 1041.9,1569.1 1013.4,1582.4"/><polygon fill="#484ef1" points="1006.8,1619.7 1035.3,1604.8 1013.4,1582.4 984.8,1596.6"/><polygon fill="#484ef1" points="978.2,1627.9 1006.8,1619.7 984.8,1596.6 956.2,1608.6"/><polygon fill="#4851f3" points="949.6,1632.4 978.2,1627.9 956.2,1608.6 927.7,1613"/><polygon fill="#4852f4" points="921.1,1638.4 949.6,1632.4 927.7,1613 899.1,1616"/><polygon fill="#4853f5" points="892.6,1645.1 921.1,1638.4 899.1,1616 870.6,1623.7"/><polygon fill="#4852f4" points="864,1654.9 892.6,1645.1 870.6,1623.7 842,1632.1"/><polygon fill="#4854f5" points="835.5,1659.6 864,1654.9 842,1632.1 813.5,1637.6"/><polygon fill="#4758f8" points="806.9,1662.4 835.5,1659.6 813.5,1637.6 784.9,1640.5"/><polygon fill="#475cfa" points="778.4,1665.1 806.9,1662.4 784.9,1640.5 756.4,1642.8"/><polygon fill="#4660fc" points="749.8,1668.2 778.4,1665.1 756.4,1642.8 727.9,1645.4"/><polygon fill="#4564fd" points="721.2,1671.6 749.8,1668.2 727.9,1645.4 699.3,1647.5"/><polygon fill="#416bfe" points="692.7,1670.6 721.2,1671.6 699.3,1647.5 670.8,1647.1"/><polygon fill="#3876fe" points="664.1,1666.3 692.7,1670.6 670.8,1647.1 642.2,1644"/><polygon fill="#2f82f9" points="635.6,1659.2 664.1,1666.3 642.2,1644 613.6,1638.4"/><polygon fill="#2c8ff0" points="607.1,1649.8 635.6,1659.2 613.6,1638.4 585.1,1630.7"/><polygon fill="#249de6" points="578.5,1638.1 607.1,1649.8 585.1,1630.7 556.5,1621.1"/><polygon fill="#1babde" points="550,1624.3 578.5,1638.1 556.5,1621.1 528,1609.8"/><polygon fill="#04b6cd" points="521.4,1610.6 550,1624.3 528,1609.8 499.4,1598.7"/><polygon fill="#01b9c6" points="492.9,1610.6 521.4,1610.6 499.4,1598.7 470.9,1595.2"/><polygon fill="#484bee" points="1057.2,1626.4 1085.8,1615.8 1063.8,1595.2 1035.3,1604.8"/><polygon fill="#4849ed" points="1028.7,1636.9 1057.2,1626.4 1035.3,1604.8 1006.8,1619.7"/><polygon fill="#4848ec" points="1000.1,1645.8 1028.7,1636.9 1006.8,1619.7 978.2,1627.9"/><polygon fill="#484bee" points="971.6,1650.3 1000.1,1645.8 978.2,1627.9 949.6,1632.4"/><polygon fill="#4849ed" points="943,1660 971.6,1650.3 949.6,1632.4 921.1,1638.4"/><polygon fill="#4848ec" points="914.5,1669.6 943,1660 921.1,1638.4 892.6,1645.1"/><polygon fill="#4746ea" points="886,1679.5 914.5,1669.6 892.6,1645.1 864,1654.9"/><polygon fill="#4849ed" points="857.4,1683.2 886,1679.5 864,1654.9 835.5,1659.6"/><polygon fill="#484df0" points="828.8,1687 857.4,1683.2 835.5,1659.6 806.9,1662.4"/><polygon fill="#4851f3" points="800.3,1689.9 828.8,1687 806.9,1662.4 778.4,1665.1"/><polygon fill="#4854f6" points="771.8,1692.9 800.3,1689.9 778.4,1665.1 749.8,1668.2"/><polygon fill="#4758f8" points="743.2,1695.7 771.8,1692.9 749.8,1668.2 721.2,1671.6"/><polygon fill="#4561fc" points="714.7,1693.2 743.2,1695.7 721.2,1671.6 692.7,1670.6"/><polygon fill="#406dfe" points="686.1,1686.9 714.7,1693.2 692.7,1670.6 664.1,1666.3"/><polygon fill="#327cfc" points="657.5,1677.5 686.1,1686.9 664.1,1666.3 635.6,1659.2"/><polygon fill="#2d8cf3" points="629,1665.2 657.5,1677.5 635.6,1659.2 607.1,1649.8"/><polygon fill="#259ce7" points="600.5,1650.4 629,1665.2 607.1,1649.8 578.5,1638.1"/><polygon fill="#16aeda" points="571.9,1628.5 600.5,1650.4 578.5,1638.1 550,1624.3"/><polygon fill="#0db3d4" points="543.3,1628.5 571.9,1628.5 550,1624.3 521.4,1610.6"/><polygon fill="#04b6cd" points="514.8,1628.5 543.3,1628.5 521.4,1610.6 492.9,1610.6"/><polygon fill="#4743e7" points="1079.2,1646.5 1107.8,1633.3 1085.8,1615.8 1057.2,1626.4"/><polygon fill="#4740e4" points="1050.7,1657.7 1079.2,1646.5 1057.2,1626.4 1028.7,1636.9"/><polygon fill="#4740e4" points="1022.1,1665.2 1050.7,1657.7 1028.7,1636.9 1000.1,1645.8"/><polygon fill="#4742e6" points="993.5,1671.1 1022.1,1665.2 1000.1,1645.8 971.6,1650.3"/><polygon fill="#4740e3" points="965,1681.6 993.5,1671.1 971.6,1650.3 943,1660"/><polygon fill="#463cde" points="936.5,1694.5 965,1681.6 943,1660 914.5,1669.6"/><polygon fill="#463adb" points="907.9,1704.8 936.5,1694.5 914.5,1669.6 886,1679.5"/><polygon fill="#463de0" points="879.4,1708.9 907.9,1704.8 886,1679.5 857.4,1683.2"/><polygon fill="#4740e4" points="850.8,1712.3 879.4,1708.9 857.4,1683.2 828.8,1687"/><polygon fill="#4744e8" points="822.2,1716 850.8,1712.3 828.8,1687 800.3,1689.9"/><polygon fill="#4848ec" points="793.7,1719 822.2,1716 800.3,1689.9 771.8,1692.9"/><polygon fill="#484cef" points="765.1,1721.7 793.7,1719 771.8,1692.9 743.2,1695.7"/><polygon fill="#4854f6" points="736.6,1719 765.1,1721.7 743.2,1695.7 714.7,1693.2"/><polygon fill="#4660fb" points="708,1712.5 736.6,1719 714.7,1693.2 686.1,1686.9"/><polygon fill="#3f6eff" points="679.5,1702.8 708,1712.5 686.1,1686.9 657.5,1677.5"/><polygon fill="#3080fa" points="651,1690.2 679.5,1702.8 657.5,1677.5 629,1665.2"/><polygon fill="#249de6" points="622.4,1658.2 651,1690.2 629,1665.2 600.5,1650.4"/><polygon fill="#21a3e4" points="593.9,1658.2 622.4,1658.2 600.5,1650.4 571.9,1628.5"/><polygon fill="#1ea8e1" points="565.3,1658.2 593.9,1658.2 571.9,1628.5 543.3,1628.5"/><polygon fill="#19acdc" points="536.8,1658.2 565.3,1658.2 543.3,1628.5 514.8,1628.5"/><polygon fill="#463cdf" points="1101.2,1664.6 1129.7,1652.7 1107.8,1633.3 1079.2,1646.5"/><polygon fill="#463bdc" points="1072.6,1674.9 1101.2,1664.6 1079.2,1646.5 1050.7,1657.7"/><polygon fill="#463adc" points="1044,1683.1 1072.6,1674.9 1050.7,1657.7 1022.1,1665.2"/><polygon fill="#463ada" points="1015.5,1692.2 1044,1683.1 1022.1,1665.2 993.5,1671.1"/><polygon fill="#4537d5" points="987,1704.4 1015.5,1692.2 993.5,1671.1 965,1681.6"/><polygon fill="#4433cc" points="958.4,1718.5 987,1704.4 965,1681.6 936.5,1694.5"/><polygon fill="#4331c7" points="929.9,1729.4 958.4,1718.5 936.5,1694.5 907.9,1704.8"/><polygon fill="#4433cc" points="901.3,1733.9 929.9,1729.4 907.9,1704.8 879.4,1708.9"/><polygon fill="#4435d0" points="872.8,1739.1 901.3,1733.9 879.4,1708.9 850.8,1712.3"/><polygon fill="#4537d5" points="844.2,1743.6 872.8,1739.1 850.8,1712.3 822.2,1716"/><polygon fill="#4639d9" points="815.7,1748 844.2,1743.6 822.2,1716 793.7,1719"/><polygon fill="#463de0" points="787.1,1749.9 815.7,1748 793.7,1719 765.1,1721.7"/><polygon fill="#4747eb" points="758.6,1745.5 787.1,1749.9 765.1,1721.7 736.6,1719"/><polygon fill="#4755f6" points="730,1736.6 758.6,1745.5 736.6,1719 708,1712.5"/><polygon fill="#4465fd" points="701.5,1724.1 730,1736.6 708,1712.5 679.5,1702.8"/><polygon fill="#347afd" points="672.9,1708.1 701.5,1724.1 679.5,1702.8 651,1690.2"/><polygon fill="#2b91ef" points="644.4,1686.1 672.9,1708.1 651,1690.2 622.4,1658.2"/><polygon fill="#2797eb" points="615.8,1686.1 644.4,1686.1 622.4,1658.2 593.9,1658.2"/><polygon fill="#259ce7" points="587.2,1686.1 615.8,1686.1 593.9,1658.2 565.3,1658.2"/><polygon fill="#22a1e4" points="558.7,1686.1 587.2,1686.1 565.3,1658.2 536.8,1658.2"/><polygon fill="#4539d9" points="1123.1,1679.8 1151.7,1667.2 1129.7,1652.7 1101.2,1664.6"/><polygon fill="#4537d6" points="1094.6,1690.2 1123.1,1679.8 1101.2,1664.6 1072.6,1674.9"/><polygon fill="#4536d3" points="1066,1699.8 1094.6,1690.2 1072.6,1674.9 1044,1683.1"/><polygon fill="#4434cf" points="1037.5,1710.8 1066,1699.8 1044,1683.1 1015.5,1692.2"/><polygon fill="#4331c6" points="1008.9,1724.2 1037.5,1710.8 1015.5,1692.2 987,1704.4"/><polygon fill="#412dbb" points="980.4,1739.1 1008.9,1724.2 987,1704.4 958.4,1718.5"/><polygon fill="#402ab3" points="951.8,1751.8 980.4,1739.1 958.4,1718.5 929.9,1729.4"/><polygon fill="#412cb9" points="923.2,1756.2 951.8,1751.8 929.9,1729.4 901.3,1733.9"/><polygon fill="#422ebe" points="894.7,1760.7 923.2,1756.2 901.3,1733.9 872.8,1739.1"/><polygon fill="#4330c5" points="866.1,1764.5 894.7,1760.7 872.8,1739.1 844.2,1743.6"/><polygon fill="#4433cc" points="837.6,1767.4 866.1,1764.5 844.2,1743.6 815.7,1748"/><polygon fill="#4537d5" points="809,1769.3 837.6,1767.4 815.7,1748 787.1,1749.9"/><polygon fill="#4740e3" points="780.5,1764.8 809,1769.3 787.1,1749.9 758.6,1745.5"/><polygon fill="#484df1" points="751.9,1755.9 780.5,1764.8 758.6,1745.5 730,1736.6"/><polygon fill="#465efb" points="723.4,1743.3 751.9,1755.9 730,1736.6 701.5,1724.1"/><polygon fill="#3875fe" points="694.9,1723.3 723.4,1743.3 701.5,1724.1 672.9,1708.1"/><polygon fill="#327cfc" points="666.3,1723.3 694.9,1723.3 672.9,1708.1 644.4,1686.1"/><polygon fill="#2f82f9" points="637.8,1723.3 666.3,1723.3 644.4,1686.1 615.8,1686.1"/><polygon fill="#2d89f6" points="609.2,1723.3 637.8,1723.3 615.8,1686.1 587.2,1686.1"/><polygon fill="#2c8ef1" points="580.6,1723.3 609.2,1723.3 587.2,1686.1 558.7,1686.1"/><polygon fill="#4536d4" points="1145,1694.1 1173.6,1683.5 1151.7,1667.2 1123.1,1679.8"/><polygon fill="#4435d1" points="1116.5,1703.9 1145,1694.1 1123.1,1679.8 1094.6,1690.2"/><polygon fill="#4433cd" points="1087.9,1714.1 1116.5,1703.9 1094.6,1690.2 1066,1699.8"/><polygon fill="#4331c8" points="1059.4,1725.7 1087.9,1714.1 1066,1699.8 1037.5,1710.8"/><polygon fill="#422ebf" points="1030.8,1738.9 1059.4,1725.7 1037.5,1710.8 1008.9,1724.2"/><polygon fill="#402ab5" points="1002.3,1753.1 1030.8,1738.9 1008.9,1724.2 980.4,1739.1"/><polygon fill="#3f28ad" points="973.8,1765.4 1002.3,1753.1 980.4,1739.1 951.8,1751.8"/><polygon fill="#3e28ac" points="945.2,1773.9 973.8,1765.4 951.8,1751.8 923.2,1756.2"/><polygon fill="#3f28ae" points="916.6,1780.8 945.2,1773.9 923.2,1756.2 894.7,1760.7"/><polygon fill="#402bb6" points="888.1,1783.8 916.6,1780.8 894.7,1760.7 866.1,1764.5"/><polygon fill="#412ebe" points="859.6,1786.8 888.1,1783.8 866.1,1764.5 837.6,1767.4"/><polygon fill="#4331c7" points="831,1788.8 859.6,1786.8 837.6,1767.4 809,1769.3"/><polygon fill="#4539d8" points="802.5,1784.8 831,1788.8 809,1769.3 780.5,1764.8"/><polygon fill="#4745e9" points="773.9,1776.5 802.5,1784.8 780.5,1764.8 751.9,1755.9"/><polygon fill="#4758f8" points="745.4,1760.3 773.9,1776.5 751.9,1755.9 723.4,1743.3"/><polygon fill="#475dfa" points="716.8,1762.6 745.4,1760.3 723.4,1743.3 694.9,1723.3"/><polygon fill="#4562fc" points="688.2,1763.4 716.8,1762.6 694.9,1723.3 666.3,1723.3"/><polygon fill="#4269fe" points="659.7,1762.7 688.2,1763.4 666.3,1723.3 637.8,1723.3"/><polygon fill="#3875fe" points="631.1,1757 659.7,1762.7 637.8,1723.3 609.2,1723.3"/><polygon fill="#337bfc" points="602.6,1758.4 631.1,1757 609.2,1723.3 580.6,1723.3"/><polygon fill="#4435d1" points="1167,1706.1 1195.5,1696.1 1173.6,1683.5 1145,1694.1"/><polygon fill="#4434ce" points="1138.5,1715.9 1167,1706.1 1145,1694.1 1116.5,1703.9"/><polygon fill="#4332ca" points="1109.9,1726.2 1138.5,1715.9 1116.5,1703.9 1087.9,1714.1"/><polygon fill="#4330c5" points="1081.3,1737.5 1109.9,1726.2 1087.9,1714.1 1059.4,1725.7"/><polygon fill="#412ebe" points="1052.8,1749.7 1081.3,1737.5 1059.4,1725.7 1030.8,1738.9"/><polygon fill="#402bb6" points="1024.2,1762.4 1052.8,1749.7 1030.8,1738.9 1002.3,1753.1"/><polygon fill="#3f29af" points="995.7,1774.5 1024.2,1762.4 1002.3,1753.1 973.8,1765.4"/><polygon fill="#3e27ab" points="967.1,1785.1 995.7,1774.5 973.8,1765.4 945.2,1773.9"/><polygon fill="#3e26a8" points="938.6,1794.3 967.1,1785.1 945.2,1773.9 916.6,1780.8"/><polygon fill="#3e27ac" points="910,1800.3 938.6,1794.3 916.6,1780.8 888.1,1783.8"/><polygon fill="#402bb8" points="881.5,1800.7 910,1800.3 888.1,1783.8 859.6,1786.8"/><polygon fill="#4434ce" points="852.9,1794.7 881.5,1800.7 859.6,1786.8 831,1788.8"/><polygon fill="#473fe2" points="824.4,1786.7 852.9,1794.7 831,1788.8 802.5,1784.8"/><polygon fill="#4848ec" points="795.8,1783.1 824.4,1786.7 802.5,1784.8 773.9,1776.5"/><polygon fill="#4848ec" points="767.3,1790.6 795.8,1783.1 773.9,1776.5 745.4,1760.3"/><polygon fill="#484bee" points="738.8,1795.3 767.3,1790.6 745.4,1760.3 716.8,1762.6"/><polygon fill="#4850f2" points="710.2,1796.8 738.8,1795.3 716.8,1762.6 688.2,1763.4"/><polygon fill="#4757f7" points="681.6,1795.5 710.2,1796.8 688.2,1763.4 659.7,1762.7"/><polygon fill="#4367fd" points="653.1,1784.1 681.6,1795.5 659.7,1762.7 631.1,1757"/><polygon fill="#416bfe" points="624.5,1786.7 653.1,1784.1 631.1,1757 602.6,1758.4"/><polygon fill="#4435d0" points="1189,1716.6 1217.5,1706.9 1195.5,1696.1 1167,1706.1"/><polygon fill="#4433cd" points="1160.4,1727 1189,1716.6 1167,1706.1 1138.5,1715.9"/><polygon fill="#4332c9" points="1131.8,1737.3 1160.4,1727 1138.5,1715.9 1109.9,1726.2"/><polygon fill="#4230c4" points="1103.3,1748.2 1131.8,1737.3 1109.9,1726.2 1081.3,1737.5"/><polygon fill="#422ebf" points="1074.8,1759.1 1103.3,1748.2 1081.3,1737.5 1052.8,1749.7"/><polygon fill="#412cb9" points="1046.2,1770.7 1074.8,1759.1 1052.8,1749.7 1024.2,1762.4"/><polygon fill="#402ab3" points="1017.6,1782.2 1046.2,1770.7 1024.2,1762.4 995.7,1774.5"/><polygon fill="#3f28ae" points="989.1,1793.2 1017.6,1782.2 995.7,1774.5 967.1,1785.1"/><polygon fill="#3e27aa" points="960.5,1803.5 989.1,1793.2 967.1,1785.1 938.6,1794.3"/><polygon fill="#3e26a8" points="932,1812.3 960.5,1803.5 938.6,1794.3 910,1800.3"/><polygon fill="#412cb8" points="903.5,1810.6 932,1812.3 910,1800.3 881.5,1800.7"/><polygon fill="#4538d7" points="874.9,1798.2 903.5,1810.6 881.5,1800.7 852.9,1794.7"/><polygon fill="#4745e9" points="846.4,1788.9 874.9,1798.2 852.9,1794.7 824.4,1786.7"/><polygon fill="#4743e7" points="817.8,1799.8 846.4,1788.9 824.4,1786.7 795.8,1783.1"/><polygon fill="#4740e3" points="789.2,1811.1 817.8,1799.8 795.8,1783.1 767.3,1790.6"/><polygon fill="#4741e4" points="760.7,1818 789.2,1811.1 767.3,1790.6 738.8,1795.3"/><polygon fill="#4745e9" points="732.1,1820.4 760.7,1818 738.8,1795.3 710.2,1796.8"/><polygon fill="#484df0" points="703.6,1818.4 732.1,1820.4 710.2,1796.8 681.6,1795.5"/><polygon fill="#4561fc" points="675,1801.3 703.6,1818.4 681.6,1795.5 653.1,1784.1"/><polygon fill="#4464fd" points="646.5,1805.3 675,1801.3 653.1,1784.1 624.5,1786.7"/></g>
<g><text class="t" x="176.5" y="675" text-anchor="end">100</text><text class="t" x="397.5" y="777" text-anchor="end">50</text><text class="t" x="616" y="878.5" text-anchor="end">0</text><text class="t" x="676" y="886" text-anchor="start">0</text><text class="t" x="963.5" y="806" text-anchor="start">50</text><text class="t" x="1250" y="728.4" text-anchor="start">100</text><text class="l" x="32" y="891.5" text-anchor="start">Y-Eccentricity(%)</text><text class="l" x="931" y="905.4" text-anchor="start">X-Eccentricity(%)</text><text class="l" text-anchor="middle" transform="translate(87.8 400.3) rotate(-90)">Accleartion(g)</text><text class="t" x="176.5" y="1738" text-anchor="end">100</text><text class="t" x="397.5" y="1840" text-anchor="end">50</text><text class="t" x="616" y="1941.5" text-anchor="end">0</text><text class="t" x="676" y="1949" text-anchor="start">0</text><text class="t" x="963.5" y="1869" text-anchor="start">50</text><text class="t" x="1250" y="1791.4" text-anchor="start">100</text><text class="l" x="32" y="1954.5" text-anchor="start">Y-Eccentricity(%)</text><text class="l" x="931" y="1968.4" text-anchor="start">X-Eccentricity(%)</text><text class="l" text-anchor="middle" transform="translate(87.8 1463.3) rotate(-90)">Accleartion(g)</text><text class="t" x="179.5" y="176.8" text-anchor="end">2.5</text><text class="t" x="178" y="400.5" text-anchor="end">2</text><text class="t" x="179.5" y="620.5" text-anchor="end">1.5</text><text class="t" x="179.5" y="1287.5" text-anchor="end">2.4</text><text class="t" x="179.5" y="1410" text-anchor="end">2.2</text><text class="t" x="178" y="1534" text-anchor="end">2</text><text class="t" x="179.5" y="1656" text-anchor="end">1.8</text><text class="c" y="1028"><tspan x="635.5" class="cp">(</tspan><tspan x="662.5" class="cb">a</tspan><tspan x="703" class="cp">)</tspan></text><text class="c" y="2091"><tspan x="630.5" class="cp">(</tspan><tspan x="658.5" class="cb">b</tspan><tspan x="708" class="cp">)</tspan></text></g>
</svg>
</body></html>
